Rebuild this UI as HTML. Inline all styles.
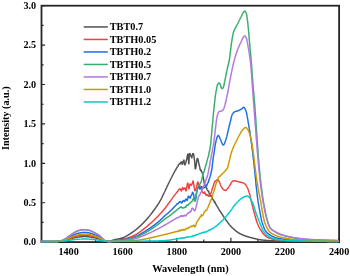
<!DOCTYPE html>
<html><head><meta charset="utf-8"><title>Spectra</title>
<style>html,body{margin:0;padding:0;background:#fff}svg{display:block}text{font-family:"Liberation Serif",serif;font-weight:bold;fill:#000}</style></head><body>
<svg width="350" height="276" viewBox="0 0 350 276">
<rect x="0" y="0" width="350" height="276" fill="#fff"/>
<g stroke="#262626" fill="none">
<rect x="41.5" y="5.7" width="297.6" height="236.4" stroke-width="1.8"/>
<path d="M68.6,242.1 v-4.3 M122.7,242.1 v-4.3 M176.8,242.1 v-4.3 M230.9,242.1 v-4.3 M285.0,242.1 v-4.3 M339.1,242.1 v-4.3 M41.5,242.1 v-2.5 M95.6,242.1 v-2.5 M149.7,242.1 v-2.5 M203.8,242.1 v-2.5 M257.9,242.1 v-2.5 M312.0,242.1 v-2.5 M41.5,242.1 h3.6 M41.5,202.7 h3.6 M41.5,163.3 h3.6 M41.5,123.9 h3.6 M41.5,84.5 h3.6 M41.5,45.1 h3.6 M41.5,5.7 h3.6 M41.5,222.4 h2.1 M41.5,183.0 h2.1 M41.5,143.6 h2.1 M41.5,104.2 h2.1 M41.5,64.8 h2.1 M41.5,25.4 h2.1" stroke-width="1.15"/>
</g>
<g fill="none" stroke-width="1.45" stroke-linejoin="round" stroke-linecap="round">
<polyline stroke="#515151" points="41.5,241.4 41.8,241.4 42.0,241.4 42.2,241.4 42.5,241.4 42.8,241.4 43.0,241.4 43.2,241.4 43.5,241.4 43.8,241.4 44.0,241.4 44.2,241.4 44.5,241.4 44.8,241.4 45.0,241.4 45.2,241.4 45.5,241.4 45.8,241.4 46.0,241.4 46.2,241.4 46.5,241.4 46.8,241.4 47.0,241.4 47.2,241.4 47.5,241.4 47.8,241.4 48.0,241.4 48.2,241.4 48.5,241.4 48.8,241.4 49.0,241.4 49.2,241.4 49.5,241.4 49.8,241.4 50.0,241.4 50.2,241.4 50.5,241.4 50.8,241.4 51.0,241.4 51.2,241.4 51.5,241.4 51.8,241.4 52.0,241.4 52.2,241.4 52.5,241.4 52.8,241.4 53.0,241.4 53.2,241.4 53.5,241.4 53.8,241.4 54.0,241.4 54.2,241.4 54.5,241.4 54.8,241.4 55.0,241.4 55.2,241.4 55.5,241.4 55.8,241.4 56.0,241.4 56.2,241.4 56.5,241.4 56.8,241.4 57.0,241.4 57.2,241.4 57.5,241.4 57.8,241.4 58.0,241.4 58.2,241.4 58.5,241.4 58.8,241.3 59.0,241.3 59.2,241.3 59.5,241.3 59.8,241.3 60.0,241.3 60.2,241.2 60.5,241.2 60.8,241.2 61.0,241.1 61.2,241.1 61.5,241.1 61.8,241.0 62.0,241.0 62.2,241.0 62.5,240.9 62.8,240.9 63.0,240.9 63.2,240.8 63.5,240.8 63.8,240.7 64.0,240.6 64.2,240.6 64.5,240.5 64.8,240.5 65.0,240.4 65.2,240.4 65.5,240.3 65.8,240.2 66.0,240.2 66.2,240.1 66.5,240.0 66.8,240.0 67.0,239.9 67.2,239.8 67.5,239.8 67.8,239.7 68.0,239.6 68.2,239.5 68.5,239.5 68.8,239.4 69.0,239.3 69.2,239.2 69.5,239.1 69.8,239.1 70.0,239.0 70.2,238.9 70.5,238.9 70.8,238.8 71.0,238.7 71.2,238.6 71.5,238.6 71.8,238.5 72.0,238.4 72.2,238.3 72.5,238.3 72.8,238.2 73.0,238.1 73.2,238.1 73.5,238.0 73.8,237.9 74.0,237.9 74.2,237.8 74.5,237.7 74.8,237.7 75.0,237.6 75.2,237.6 75.5,237.5 75.8,237.5 76.0,237.4 76.2,237.4 76.5,237.3 76.8,237.3 77.0,237.2 77.2,237.2 77.5,237.1 77.8,237.1 78.0,237.1 78.2,237.0 78.5,237.0 78.8,237.0 79.0,236.9 79.2,236.9 79.5,236.9 79.8,236.8 80.0,236.8 80.2,236.8 80.5,236.8 80.8,236.8 81.0,236.7 81.2,236.7 81.5,236.7 81.8,236.7 82.0,236.7 82.2,236.7 82.5,236.7 82.8,236.7 83.0,236.6 83.2,236.6 83.5,236.6 83.8,236.6 84.0,236.6 84.2,236.6 84.5,236.6 84.8,236.6 85.0,236.6 85.2,236.6 85.5,236.6 85.8,236.6 86.0,236.6 86.2,236.6 86.5,236.6 86.8,236.7 87.0,236.7 87.2,236.7 87.5,236.7 87.8,236.7 88.0,236.8 88.2,236.8 88.5,236.8 88.8,236.8 89.0,236.9 89.2,236.9 89.5,236.9 89.8,236.9 90.0,237.0 90.2,237.0 90.5,237.0 90.8,237.1 91.0,237.1 91.2,237.2 91.5,237.2 91.8,237.3 92.0,237.3 92.2,237.4 92.5,237.4 92.8,237.5 93.0,237.5 93.2,237.6 93.5,237.6 93.8,237.7 94.0,237.7 94.2,237.8 94.5,237.8 94.8,237.9 95.0,237.9 95.2,238.0 95.5,238.0 95.8,238.1 96.0,238.2 96.2,238.2 96.5,238.3 96.8,238.3 97.0,238.4 97.2,238.4 97.5,238.5 97.8,238.6 98.0,238.6 98.2,238.7 98.5,238.8 98.8,238.8 99.0,238.9 99.2,239.0 99.5,239.1 99.8,239.1 100.0,239.2 100.2,239.3 100.5,239.4 100.8,239.5 101.0,239.6 101.2,239.7 101.5,239.8 101.8,239.9 102.0,240.0 102.2,240.1 102.5,240.2 102.8,240.3 103.0,240.4 103.2,240.5 103.5,240.6 103.8,240.7 104.0,240.8 104.2,240.9 104.5,240.9 104.8,241.0 105.0,241.1 105.2,241.1 105.5,241.2 105.8,241.2 106.0,241.2 106.2,241.3 106.5,241.3 106.8,241.3 107.0,241.4 107.2,241.4 107.5,241.4 107.8,241.4 108.0,241.4 108.2,241.4 108.5,241.4 108.8,241.4 109.0,241.4 109.2,241.4 109.5,241.4 109.8,241.4 110.0,241.4 110.2,241.4 110.5,241.2 110.8,241.1 111.0,240.9 111.2,240.8 111.5,240.7 111.8,240.6 112.0,240.5 112.2,240.4 112.5,240.3 112.8,240.2 113.0,240.2 113.2,240.1 113.5,240.0 113.8,240.0 114.0,239.9 114.2,239.8 114.5,239.8 114.8,239.7 115.0,239.6 115.2,239.6 115.5,239.5 115.8,239.5 116.0,239.4 116.2,239.4 116.5,239.3 116.8,239.3 117.0,239.2 117.2,239.2 117.5,239.1 117.8,239.1 118.0,239.0 118.2,239.0 118.5,238.9 118.8,238.8 119.0,238.8 119.2,238.7 119.5,238.7 119.8,238.6 120.0,238.6 120.2,238.5 120.5,238.4 120.8,238.4 121.0,238.3 121.2,238.2 121.5,238.2 121.8,238.1 122.0,238.0 122.2,237.9 122.5,237.8 122.8,237.8 123.0,237.7 123.2,237.6 123.5,237.5 123.8,237.4 124.0,237.3 124.2,237.2 124.5,237.0 124.8,236.9 125.0,236.8 125.2,236.7 125.5,236.6 125.8,236.4 126.0,236.3 126.2,236.2 126.5,236.0 126.8,235.9 127.0,235.8 127.2,235.6 127.5,235.5 127.8,235.3 128.0,235.2 128.2,235.0 128.5,234.9 128.8,234.7 129.0,234.6 129.2,234.4 129.5,234.2 129.8,234.1 130.0,233.9 130.2,233.7 130.5,233.6 130.8,233.4 131.0,233.2 131.2,233.1 131.5,232.9 131.8,232.7 132.0,232.5 132.2,232.4 132.5,232.2 132.8,232.0 133.0,231.8 133.2,231.7 133.5,231.5 133.8,231.3 134.0,231.1 134.2,230.9 134.5,230.8 134.8,230.6 135.0,230.4 135.2,230.2 135.5,230.0 135.8,229.8 136.0,229.6 136.2,229.4 136.5,229.2 136.8,229.0 137.0,228.8 137.2,228.6 137.5,228.4 137.8,228.2 138.0,227.9 138.2,227.7 138.5,227.5 138.8,227.3 139.0,227.1 139.2,226.8 139.5,226.6 139.8,226.4 140.0,226.1 140.2,225.9 140.5,225.7 140.8,225.4 141.0,225.2 141.2,225.0 141.5,224.7 141.8,224.5 142.0,224.2 142.2,224.0 142.5,223.7 142.8,223.5 143.0,223.2 143.2,223.0 143.5,222.7 143.8,222.5 144.0,222.2 144.2,221.9 144.5,221.7 144.8,221.4 145.0,221.1 145.2,220.9 145.5,220.6 145.8,220.3 146.0,220.1 146.2,219.8 146.5,219.5 146.8,219.2 147.0,219.0 147.2,218.7 147.5,218.4 147.8,218.1 148.0,217.8 148.2,217.5 148.5,217.2 148.8,216.9 149.0,216.6 149.2,216.3 149.5,216.0 149.8,215.7 150.0,215.4 150.2,215.1 150.5,214.8 150.8,214.4 151.0,214.1 151.2,213.8 151.5,213.5 151.8,213.2 152.0,212.8 152.2,212.5 152.5,212.2 152.8,211.8 153.0,211.5 153.2,211.2 153.5,210.8 153.8,210.5 154.0,210.1 154.2,209.8 154.5,209.4 154.8,209.1 155.0,208.7 155.2,208.4 155.5,208.0 155.8,207.7 156.0,207.3 156.2,206.9 156.5,206.6 156.8,206.2 157.0,205.8 157.2,205.5 157.5,205.1 157.8,204.7 158.0,204.3 158.2,204.0 158.5,203.6 158.8,203.2 159.0,202.8 159.2,202.3 159.5,201.9 159.8,201.5 160.0,201.1 160.2,200.6 160.5,200.2 160.8,199.7 161.0,199.3 161.2,198.8 161.5,198.3 161.8,197.8 162.0,197.2 162.2,196.7 162.5,196.2 162.8,195.7 163.0,195.1 163.2,194.6 163.5,194.1 163.8,193.6 164.0,193.1 164.2,192.5 164.5,192.0 164.8,191.5 165.0,191.0 165.2,190.4 165.5,189.9 165.8,189.4 166.0,188.8 166.2,188.3 166.5,187.8 166.8,187.3 167.0,186.7 167.2,186.2 167.5,185.7 167.8,185.1 168.0,184.6 168.2,184.1 168.5,183.6 168.8,183.1 169.0,182.5 169.2,182.0 169.5,181.5 169.8,181.0 170.0,180.5 170.2,180.0 170.5,179.5 170.8,179.0 171.0,178.5 171.2,178.0 171.5,177.5 171.8,177.0 172.0,176.5 172.2,176.1 172.5,175.6 172.8,175.1 173.0,174.6 173.2,174.1 173.5,173.7 173.8,173.2 174.0,172.7 174.2,172.3 174.5,171.8 174.8,171.3 175.0,170.9 175.2,170.4 175.5,170.1 175.8,169.7 176.0,169.3 176.2,168.7 176.5,168.1 176.8,167.7 177.0,167.4 177.2,167.1 177.5,166.8 177.8,166.6 178.0,166.2 178.2,165.7 178.5,164.9 178.8,164.4 179.0,164.1 179.2,163.7 179.5,163.8 179.8,163.8 180.0,164.0 180.2,163.4 180.5,162.7 180.8,162.3 181.0,162.7 181.2,162.0 181.5,162.0 181.8,161.9 182.0,163.7 182.2,164.4 182.5,164.2 182.8,163.1 183.0,162.3 183.2,161.5 183.5,160.7 183.8,160.1 184.0,160.2 184.2,161.8 184.5,163.6 184.8,164.8 185.0,164.9 185.2,164.2 185.5,163.5 185.8,163.0 186.0,161.9 186.2,160.7 186.5,159.7 186.8,159.3 187.0,157.9 187.2,156.7 187.5,155.0 187.8,154.4 188.0,153.9 188.2,156.6 188.5,161.3 188.8,163.8 189.0,161.9 189.2,156.8 189.5,153.7 189.8,153.9 190.0,153.4 190.2,154.5 190.5,155.1 190.8,155.9 191.0,155.7 191.2,156.6 191.5,157.3 191.8,157.9 192.0,157.1 192.2,155.5 192.5,154.5 192.8,153.6 193.0,153.6 193.2,153.6 193.5,153.7 193.8,155.0 194.0,156.5 194.2,158.6 194.5,160.1 194.8,162.5 195.0,166.3 195.2,168.9 195.5,168.7 195.8,167.9 196.0,166.9 196.2,165.1 196.5,162.9 196.8,160.6 197.0,159.2 197.2,158.4 197.5,158.5 197.8,158.7 198.0,159.4 198.2,160.1 198.5,162.0 198.8,163.1 199.0,164.6 199.2,165.1 199.5,166.2 199.8,166.9 200.0,168.6 200.2,169.6 200.5,170.4 200.8,170.0 201.0,170.0 201.2,170.6 201.5,171.7 201.8,171.9 202.0,172.2 202.2,172.6 202.5,173.9 202.8,174.9 203.0,176.2 203.2,177.8 203.5,178.9 203.8,180.1 204.0,181.3 204.2,183.1 204.5,183.8 204.8,184.9 205.0,185.4 205.2,185.9 205.5,186.1 205.8,186.2 206.0,187.2 206.2,187.0 206.5,188.1 206.8,188.1 207.0,189.2 207.2,189.7 207.5,190.4 207.8,190.5 208.0,191.0 208.2,190.8 208.5,191.3 208.8,191.6 209.0,192.7 209.2,193.3 209.5,194.8 209.8,195.1 210.0,195.5 210.2,194.9 210.5,195.8 210.8,195.4 211.0,196.3 211.2,196.1 211.5,196.4 211.8,196.0 212.0,196.6 212.2,197.8 212.5,198.5 212.8,199.2 213.0,199.6 213.2,200.0 213.5,199.8 213.8,200.3 214.0,201.0 214.2,201.7 214.5,201.7 214.8,201.8 215.0,202.6 215.2,203.2 215.5,203.7 215.8,203.8 216.0,204.4 216.2,204.9 216.5,205.3 216.8,205.6 217.0,206.1 217.2,206.6 217.5,207.0 217.8,207.4 218.0,207.8 218.2,208.2 218.5,208.7 218.8,209.1 219.0,209.5 219.2,209.9 219.5,210.3 219.8,210.7 220.0,211.1 220.2,211.5 220.5,211.9 220.8,212.3 221.0,212.6 221.2,213.0 221.5,213.4 221.8,213.8 222.0,214.2 222.2,214.5 222.5,214.9 222.8,215.3 223.0,215.6 223.2,216.0 223.5,216.4 223.8,216.7 224.0,217.1 224.2,217.5 224.5,217.8 224.8,218.2 225.0,218.6 225.2,218.9 225.5,219.3 225.8,219.7 226.0,220.0 226.2,220.4 226.5,220.7 226.8,221.1 227.0,221.4 227.2,221.8 227.5,222.1 227.8,222.5 228.0,222.8 228.2,223.2 228.5,223.5 228.8,223.8 229.0,224.1 229.2,224.4 229.5,224.8 229.8,225.1 230.0,225.4 230.2,225.6 230.5,225.9 230.8,226.2 231.0,226.5 231.2,226.8 231.5,227.0 231.8,227.3 232.0,227.5 232.2,227.7 232.5,228.0 232.8,228.2 233.0,228.4 233.2,228.7 233.5,228.9 233.8,229.1 234.0,229.3 234.2,229.6 234.5,229.8 234.8,230.0 235.0,230.2 235.2,230.4 235.5,230.6 235.8,230.8 236.0,231.0 236.2,231.2 236.5,231.4 236.8,231.6 237.0,231.8 237.2,231.9 237.5,232.1 237.8,232.3 238.0,232.5 238.2,232.6 238.5,232.8 238.8,233.0 239.0,233.1 239.2,233.3 239.5,233.4 239.8,233.6 240.0,233.7 240.2,233.8 240.5,234.0 240.8,234.1 241.0,234.2 241.2,234.3 241.5,234.4 241.8,234.5 242.0,234.7 242.2,234.8 242.5,234.9 242.8,235.0 243.0,235.1 243.2,235.2 243.5,235.3 243.8,235.4 244.0,235.5 244.2,235.6 244.5,235.7 244.8,235.7 245.0,235.8 245.2,235.9 245.5,236.0 245.8,236.1 246.0,236.2 246.2,236.3 246.5,236.3 246.8,236.4 247.0,236.5 247.2,236.6 247.5,236.7 247.8,236.7 248.0,236.8 248.2,236.9 248.5,237.0 248.8,237.0 249.0,237.1 249.2,237.2 249.5,237.2 249.8,237.3 250.0,237.4 250.2,237.4 250.5,237.5 250.8,237.6 251.0,237.6 251.2,237.7 251.5,237.8 251.8,237.8 252.0,237.9 252.2,238.0 252.5,238.0 252.8,238.1 253.0,238.2 253.2,238.2 253.5,238.3 253.8,238.4 254.0,238.4 254.2,238.5 254.5,238.5 254.8,238.6 255.0,238.7 255.2,238.7 255.5,238.8 255.8,238.9 256.0,238.9 256.2,239.0 256.5,239.0 256.8,239.1 257.0,239.2 257.2,239.2 257.5,239.3 257.8,239.3 258.0,239.4 258.2,239.4 258.5,239.5 258.8,239.5 259.0,239.6 259.2,239.6 259.5,239.7 259.8,239.7 260.0,239.7 260.2,239.8 260.5,239.8 260.8,239.9 261.0,239.9 261.2,239.9 261.5,239.9 261.8,240.0 262.0,240.0 262.2,240.0 262.5,240.0 262.8,240.1 263.0,240.1 263.2,240.1 263.5,240.1 263.8,240.2 264.0,240.2 264.2,240.2 264.5,240.2 264.8,240.2 265.0,240.3 265.2,240.3 265.5,240.3 265.8,240.3 266.0,240.3 266.2,240.4 266.5,240.4 266.8,240.4 267.0,240.4 267.2,240.4 267.5,240.5 267.8,240.5 268.0,240.5 268.2,240.5 268.5,240.5 268.8,240.5 269.0,240.6 269.2,240.6 269.5,240.6 269.8,240.6 270.0,240.6 270.2,240.6 270.5,240.6 270.8,240.7 271.0,240.7 271.2,240.7 271.5,240.7 271.8,240.7 272.0,240.7 272.2,240.7 272.5,240.8 272.8,240.8 273.0,240.8 273.2,240.8 273.5,240.8 273.8,240.8 274.0,240.8 274.2,240.8 274.5,240.8 274.8,240.9 275.0,240.9 275.2,240.9 275.5,240.9 275.8,240.9 276.0,240.9 276.2,240.9 276.5,240.9 276.8,240.9 277.0,240.9 277.2,240.9 277.5,240.9 277.8,241.0 278.0,241.0 278.2,241.0 278.5,241.0 278.8,241.0 279.0,241.0 279.2,241.0 279.5,241.0 279.8,241.0 280.0,241.0 280.2,241.0 280.5,241.0 280.8,241.0 281.0,241.0 281.2,241.0 281.5,241.0 281.8,241.0 282.0,241.0 282.2,241.0 282.5,241.0 282.8,241.0 283.0,241.0 283.2,241.0 283.5,241.0 283.8,241.1 284.0,241.1 284.2,241.1 284.5,241.1 284.8,241.1 285.0,241.1 285.2,241.1 285.5,241.1 285.8,241.1 286.0,241.1 286.2,241.1 286.5,241.1 286.8,241.1 287.0,241.1 287.2,241.1 287.5,241.1 287.8,241.1 288.0,241.1 288.2,241.1 288.5,241.1 288.8,241.1 289.0,241.1 289.2,241.1 289.5,241.1 289.8,241.1 290.0,241.1 290.2,241.1 290.5,241.1 290.8,241.1 291.0,241.1 291.2,241.1 291.5,241.1 291.8,241.1 292.0,241.1 292.2,241.2 292.5,241.2 292.8,241.2 293.0,241.2 293.2,241.2 293.5,241.2 293.8,241.2 294.0,241.2 294.2,241.2 294.5,241.2 294.8,241.2 295.0,241.2 295.2,241.2 295.5,241.2 295.8,241.2 296.0,241.2 296.2,241.2 296.5,241.2 296.8,241.2 297.0,241.2 297.2,241.2 297.5,241.2 297.8,241.2 298.0,241.2 298.2,241.2 298.5,241.2 298.8,241.2 299.0,241.2 299.2,241.2 299.5,241.2 299.8,241.2 300.0,241.2 300.2,241.2 300.5,241.2 300.8,241.2 301.0,241.2 301.2,241.2 301.5,241.2 301.8,241.2 302.0,241.2 302.2,241.2 302.5,241.3 302.8,241.3 303.0,241.3 303.2,241.3 303.5,241.3 303.8,241.3 304.0,241.3 304.2,241.3 304.5,241.3 304.8,241.3 305.0,241.3 305.2,241.3 305.5,241.3 305.8,241.3 306.0,241.3 306.2,241.3 306.5,241.3 306.8,241.3 307.0,241.3 307.2,241.3 307.5,241.3 307.8,241.3 308.0,241.3 308.2,241.3 308.5,241.3 308.8,241.3 309.0,241.3 309.2,241.3 309.5,241.3 309.8,241.3 310.0,241.3 310.2,241.3 310.5,241.3 310.8,241.3 311.0,241.3 311.2,241.3 311.5,241.3 311.8,241.3 312.0,241.3 312.2,241.3 312.5,241.3 312.8,241.3 313.0,241.3 313.2,241.3 313.5,241.3 313.8,241.3 314.0,241.3 314.2,241.3 314.5,241.3 314.8,241.3 315.0,241.3 315.2,241.3 315.5,241.3 315.8,241.3 316.0,241.3 316.2,241.3 316.5,241.3 316.8,241.3 317.0,241.3 317.2,241.3 317.5,241.3 317.8,241.4 318.0,241.4 318.2,241.4 318.5,241.4 318.8,241.4 319.0,241.4 319.2,241.4 319.5,241.4 319.8,241.4 320.0,241.4 320.2,241.4 320.5,241.4 320.8,241.4 321.0,241.4 321.2,241.4 321.5,241.4 321.8,241.4 322.0,241.4 322.2,241.4 322.5,241.4 322.8,241.4 323.0,241.4 323.2,241.4 323.5,241.4 323.8,241.4 324.0,241.4 324.2,241.4 324.5,241.4 324.8,241.4 325.0,241.4 325.2,241.4 325.5,241.4 325.8,241.4 326.0,241.4 326.2,241.4 326.5,241.4 326.8,241.4 327.0,241.4 327.2,241.4 327.5,241.4 327.8,241.4 328.0,241.4 328.2,241.4 328.5,241.4 328.8,241.4 329.0,241.4 329.2,241.4 329.5,241.4 329.8,241.4 330.0,241.4 330.2,241.4 330.5,241.4 330.8,241.4 331.0,241.4 331.2,241.4 331.5,241.4 331.8,241.4 332.0,241.4 332.2,241.4 332.5,241.4 332.8,241.4 333.0,241.4 333.2,241.4 333.5,241.4 333.8,241.4 334.0,241.4 334.2,241.4 334.5,241.4 334.8,241.4 335.0,241.4 335.2,241.4 335.5,241.4 335.8,241.4 336.0,241.4 336.2,241.4 336.5,241.4 336.8,241.4 337.0,241.4 337.2,241.4 337.5,241.4 337.8,241.4 338.0,241.4 338.2,241.4"/>
<polyline stroke="#F14040" points="41.5,241.4 41.8,241.4 42.0,241.4 42.2,241.4 42.5,241.4 42.8,241.4 43.0,241.4 43.2,241.4 43.5,241.4 43.8,241.4 44.0,241.4 44.2,241.4 44.5,241.4 44.8,241.4 45.0,241.4 45.2,241.4 45.5,241.4 45.8,241.4 46.0,241.4 46.2,241.4 46.5,241.4 46.8,241.4 47.0,241.4 47.2,241.4 47.5,241.4 47.8,241.4 48.0,241.4 48.2,241.4 48.5,241.4 48.8,241.4 49.0,241.4 49.2,241.4 49.5,241.4 49.8,241.4 50.0,241.4 50.2,241.4 50.5,241.4 50.8,241.4 51.0,241.4 51.2,241.4 51.5,241.4 51.8,241.4 52.0,241.4 52.2,241.4 52.5,241.4 52.8,241.4 53.0,241.4 53.2,241.4 53.5,241.4 53.8,241.4 54.0,241.4 54.2,241.4 54.5,241.4 54.8,241.4 55.0,241.4 55.2,241.4 55.5,241.4 55.8,241.4 56.0,241.4 56.2,241.4 56.5,241.4 56.8,241.4 57.0,241.4 57.2,241.4 57.5,241.4 57.8,241.4 58.0,241.4 58.2,241.4 58.5,241.3 58.8,241.3 59.0,241.3 59.2,241.3 59.5,241.3 59.8,241.2 60.0,241.2 60.2,241.2 60.5,241.2 60.8,241.1 61.0,241.1 61.2,241.0 61.5,241.0 61.8,241.0 62.0,240.9 62.2,240.9 62.5,240.8 62.8,240.8 63.0,240.7 63.2,240.6 63.5,240.6 63.8,240.5 64.0,240.4 64.2,240.4 64.5,240.3 64.8,240.2 65.0,240.1 65.2,240.1 65.5,240.0 65.8,239.9 66.0,239.8 66.2,239.8 66.5,239.7 66.8,239.6 67.0,239.5 67.2,239.4 67.5,239.3 67.8,239.2 68.0,239.1 68.2,239.0 68.5,238.9 68.8,238.8 69.0,238.7 69.2,238.6 69.5,238.5 69.8,238.4 70.0,238.3 70.2,238.3 70.5,238.2 70.8,238.1 71.0,238.0 71.2,237.9 71.5,237.8 71.8,237.7 72.0,237.6 72.2,237.5 72.5,237.4 72.8,237.3 73.0,237.2 73.2,237.1 73.5,237.1 73.8,237.0 74.0,236.9 74.2,236.8 74.5,236.8 74.8,236.7 75.0,236.6 75.2,236.5 75.5,236.5 75.8,236.4 76.0,236.3 76.2,236.3 76.5,236.2 76.8,236.1 77.0,236.1 77.2,236.0 77.5,236.0 77.8,235.9 78.0,235.9 78.2,235.9 78.5,235.8 78.8,235.8 79.0,235.7 79.2,235.7 79.5,235.6 79.8,235.6 80.0,235.6 80.2,235.6 80.5,235.5 80.8,235.5 81.0,235.5 81.2,235.5 81.5,235.4 81.8,235.4 82.0,235.4 82.2,235.4 82.5,235.4 82.8,235.4 83.0,235.4 83.2,235.3 83.5,235.3 83.8,235.3 84.0,235.3 84.2,235.3 84.5,235.3 84.8,235.3 85.0,235.3 85.2,235.3 85.5,235.3 85.8,235.3 86.0,235.3 86.2,235.3 86.5,235.4 86.8,235.4 87.0,235.4 87.2,235.4 87.5,235.5 87.8,235.5 88.0,235.5 88.2,235.5 88.5,235.6 88.8,235.6 89.0,235.6 89.2,235.7 89.5,235.7 89.8,235.7 90.0,235.8 90.2,235.8 90.5,235.9 90.8,235.9 91.0,236.0 91.2,236.0 91.5,236.1 91.8,236.2 92.0,236.2 92.2,236.3 92.5,236.3 92.8,236.4 93.0,236.5 93.2,236.5 93.5,236.6 93.8,236.7 94.0,236.7 94.2,236.8 94.5,236.9 94.8,236.9 95.0,237.0 95.2,237.1 95.5,237.1 95.8,237.2 96.0,237.3 96.2,237.3 96.5,237.4 96.8,237.5 97.0,237.6 97.2,237.6 97.5,237.7 97.8,237.8 98.0,237.9 98.2,238.0 98.5,238.0 98.8,238.1 99.0,238.2 99.2,238.3 99.5,238.4 99.8,238.5 100.0,238.6 100.2,238.7 100.5,238.8 100.8,239.0 101.0,239.1 101.2,239.2 101.5,239.3 101.8,239.5 102.0,239.6 102.2,239.8 102.5,239.9 102.8,240.1 103.0,240.2 103.2,240.3 103.5,240.4 103.8,240.5 104.0,240.6 104.2,240.7 104.5,240.8 104.8,240.9 105.0,241.0 105.2,241.0 105.5,241.1 105.8,241.2 106.0,241.2 106.2,241.3 106.5,241.3 106.8,241.3 107.0,241.3 107.2,241.3 107.5,241.4 107.8,241.4 108.0,241.4 108.2,241.4 108.5,241.4 108.8,241.4 109.0,241.4 109.2,241.4 109.5,241.4 109.8,241.4 110.0,241.4 110.2,241.4 110.5,241.4 110.8,241.4 111.0,241.3 111.2,241.3 111.5,241.3 111.8,241.2 112.0,241.2 112.2,241.1 112.5,241.1 112.8,241.0 113.0,241.0 113.2,241.0 113.5,240.9 113.8,240.9 114.0,240.9 114.2,240.8 114.5,240.8 114.8,240.7 115.0,240.7 115.2,240.7 115.5,240.6 115.8,240.6 116.0,240.6 116.2,240.5 116.5,240.5 116.8,240.4 117.0,240.4 117.2,240.4 117.5,240.3 117.8,240.3 118.0,240.2 118.2,240.2 118.5,240.2 118.8,240.1 119.0,240.1 119.2,240.0 119.5,240.0 119.8,239.9 120.0,239.9 120.2,239.8 120.5,239.8 120.8,239.8 121.0,239.7 121.2,239.7 121.5,239.6 121.8,239.5 122.0,239.5 122.2,239.4 122.5,239.4 122.8,239.3 123.0,239.3 123.2,239.2 123.5,239.2 123.8,239.1 124.0,239.0 124.2,239.0 124.5,238.9 124.8,238.8 125.0,238.8 125.2,238.7 125.5,238.6 125.8,238.6 126.0,238.5 126.2,238.4 126.5,238.4 126.8,238.3 127.0,238.2 127.2,238.1 127.5,238.0 127.8,238.0 128.0,237.9 128.2,237.8 128.5,237.7 128.8,237.6 129.0,237.5 129.2,237.5 129.5,237.4 129.8,237.3 130.0,237.2 130.2,237.1 130.5,237.0 130.8,236.9 131.0,236.8 131.2,236.7 131.5,236.6 131.8,236.5 132.0,236.4 132.2,236.3 132.5,236.2 132.8,236.1 133.0,236.0 133.2,235.9 133.5,235.8 133.8,235.6 134.0,235.5 134.2,235.4 134.5,235.3 134.8,235.2 135.0,235.1 135.2,234.9 135.5,234.8 135.8,234.7 136.0,234.5 136.2,234.4 136.5,234.2 136.8,234.1 137.0,233.9 137.2,233.8 137.5,233.6 137.8,233.4 138.0,233.3 138.2,233.1 138.5,232.9 138.8,232.8 139.0,232.6 139.2,232.4 139.5,232.2 139.8,232.1 140.0,231.9 140.2,231.7 140.5,231.5 140.8,231.3 141.0,231.1 141.2,230.9 141.5,230.7 141.8,230.5 142.0,230.3 142.2,230.1 142.5,229.9 142.8,229.7 143.0,229.6 143.2,229.4 143.5,229.2 143.8,229.0 144.0,228.8 144.2,228.6 144.5,228.4 144.8,228.2 145.0,228.0 145.2,227.8 145.5,227.6 145.8,227.4 146.0,227.2 146.2,227.0 146.5,226.8 146.8,226.6 147.0,226.4 147.2,226.2 147.5,225.9 147.8,225.7 148.0,225.5 148.2,225.3 148.5,225.1 148.8,224.9 149.0,224.7 149.2,224.5 149.5,224.2 149.8,224.0 150.0,223.8 150.2,223.6 150.5,223.4 150.8,223.1 151.0,222.9 151.2,222.7 151.5,222.5 151.8,222.2 152.0,222.0 152.2,221.8 152.5,221.6 152.8,221.3 153.0,221.1 153.2,220.9 153.5,220.6 153.8,220.4 154.0,220.1 154.2,219.9 154.5,219.7 154.8,219.4 155.0,219.2 155.2,218.9 155.5,218.7 155.8,218.4 156.0,218.2 156.2,218.0 156.5,217.7 156.8,217.5 157.0,217.2 157.2,216.9 157.5,216.7 157.8,216.4 158.0,216.2 158.2,215.9 158.5,215.7 158.8,215.4 159.0,215.1 159.2,214.9 159.5,214.6 159.8,214.3 160.0,214.1 160.2,213.8 160.5,213.5 160.8,213.2 161.0,213.0 161.2,212.7 161.5,212.4 161.8,212.1 162.0,211.8 162.2,211.6 162.5,211.3 162.8,211.0 163.0,210.7 163.2,210.4 163.5,210.1 163.8,209.8 164.0,209.5 164.2,209.2 164.5,208.9 164.8,208.6 165.0,208.3 165.2,208.0 165.5,207.7 165.8,207.3 166.0,207.0 166.2,206.7 166.5,206.3 166.8,206.0 167.0,205.7 167.2,205.3 167.5,204.9 167.8,204.6 168.0,204.2 168.2,203.9 168.5,203.5 168.8,203.2 169.0,202.8 169.2,202.5 169.5,202.2 169.8,201.8 170.0,201.5 170.2,201.1 170.5,200.8 170.8,200.4 171.0,200.1 171.2,199.7 171.5,199.4 171.8,199.0 172.0,198.7 172.2,198.3 172.5,198.0 172.8,197.6 173.0,197.3 173.2,196.9 173.5,196.6 173.8,196.3 174.0,195.9 174.2,195.6 174.5,195.2 174.8,194.9 175.0,194.6 175.2,194.3 175.5,194.0 175.8,193.6 176.0,193.3 176.2,193.0 176.5,192.7 176.8,192.5 177.0,192.0 177.2,191.8 177.5,191.5 177.8,191.3 178.0,190.7 178.2,190.3 178.5,189.9 178.8,189.7 179.0,189.5 179.2,189.3 179.5,188.9 179.8,188.9 180.0,188.6 180.2,189.1 180.5,189.4 180.8,189.8 181.0,190.5 181.2,190.3 181.5,191.0 181.8,189.9 182.0,189.5 182.2,188.0 182.5,187.8 182.8,187.6 183.0,188.7 183.2,189.2 183.5,189.4 183.8,189.4 184.0,188.8 184.2,188.4 184.5,188.0 184.8,188.0 185.0,188.0 185.2,188.0 185.5,188.6 185.8,190.2 186.0,191.0 186.2,190.5 186.5,188.7 186.8,187.0 187.0,186.1 187.2,184.8 187.5,183.7 187.8,182.9 188.0,183.6 188.2,185.2 188.5,186.7 188.8,188.0 189.0,188.9 189.2,188.0 189.5,185.9 189.8,184.5 190.0,183.9 190.2,184.4 190.5,184.2 190.8,184.5 191.0,184.7 191.2,185.3 191.5,185.2 191.8,184.4 192.0,184.0 192.2,183.6 192.5,183.4 192.8,181.9 193.0,181.0 193.2,181.1 193.5,182.5 193.8,184.6 194.0,185.7 194.2,187.2 194.5,188.8 194.8,190.6 195.0,190.9 195.2,190.2 195.5,189.9 195.8,189.2 196.0,188.9 196.2,188.4 196.5,187.5 196.8,186.2 197.0,184.7 197.2,183.4 197.5,182.6 197.8,181.9 198.0,182.2 198.2,183.1 198.5,184.5 198.8,185.6 199.0,185.4 199.2,185.5 199.5,185.4 199.8,185.9 200.0,186.1 200.2,186.7 200.5,187.0 200.8,187.4 201.0,187.8 201.2,188.6 201.5,189.3 201.8,190.2 202.0,191.0 202.2,191.7 202.5,191.7 202.8,192.5 203.0,192.8 203.2,193.3 203.5,192.7 203.8,193.3 204.0,193.3 204.2,192.8 204.5,192.3 204.8,191.9 205.0,192.7 205.2,193.4 205.5,194.1 205.8,194.8 206.0,194.9 206.2,195.4 206.5,195.0 206.8,195.0 207.0,194.5 207.2,194.9 207.5,194.7 207.8,195.0 208.0,195.4 208.2,196.0 208.5,196.2 208.8,196.3 209.0,196.1 209.2,196.1 209.5,196.1 209.8,195.6 210.0,194.7 210.2,194.0 210.5,193.5 210.8,193.6 211.0,193.1 211.2,192.9 211.5,191.9 211.8,190.9 212.0,189.7 212.2,188.7 212.5,188.0 212.8,187.1 213.0,186.7 213.2,186.1 213.5,185.3 213.8,184.0 214.0,183.5 214.2,183.0 214.5,182.4 214.8,181.5 215.0,181.2 215.2,181.3 215.5,181.2 215.8,181.0 216.0,180.8 216.2,180.6 216.5,180.2 216.8,179.9 217.0,179.7 217.2,179.7 217.5,179.7 217.8,179.8 218.0,180.0 218.2,180.3 218.5,180.6 218.8,181.0 219.0,181.3 219.2,181.7 219.5,182.2 219.8,182.9 220.0,183.5 220.2,184.2 220.5,184.9 220.8,185.5 221.0,186.1 221.2,186.6 221.5,187.0 221.8,187.4 222.0,187.8 222.2,188.2 222.5,188.6 222.8,188.9 223.0,189.2 223.2,189.4 223.5,189.6 223.8,189.7 224.0,189.9 224.2,190.0 224.5,190.2 224.8,190.3 225.0,190.3 225.2,190.4 225.5,190.4 225.8,190.3 226.0,190.2 226.2,190.0 226.5,189.7 226.8,189.5 227.0,189.2 227.2,188.9 227.5,188.7 227.8,188.4 228.0,188.0 228.2,187.7 228.5,187.3 228.8,186.9 229.0,186.6 229.2,186.2 229.5,185.8 229.8,185.4 230.0,185.0 230.2,184.6 230.5,184.2 230.8,183.7 231.0,183.3 231.2,182.9 231.5,182.5 231.8,182.1 232.0,181.8 232.2,181.6 232.5,181.3 232.8,181.1 233.0,180.9 233.2,180.8 233.5,180.7 233.8,180.6 234.0,180.6 234.2,180.6 234.5,180.7 234.8,180.7 235.0,180.8 235.2,180.9 235.5,181.0 235.8,181.0 236.0,181.1 236.2,181.2 236.5,181.2 236.8,181.3 237.0,181.3 237.2,181.4 237.5,181.5 237.8,181.5 238.0,181.6 238.2,181.7 238.5,181.7 238.8,181.8 239.0,181.8 239.2,181.9 239.5,182.0 239.8,182.0 240.0,182.1 240.2,182.2 240.5,182.2 240.8,182.3 241.0,182.3 241.2,182.4 241.5,182.4 241.8,182.5 242.0,182.6 242.2,182.6 242.5,182.7 242.8,182.8 243.0,182.8 243.2,182.9 243.5,183.0 243.8,183.2 244.0,183.3 244.2,183.5 244.5,183.7 244.8,183.9 245.0,184.1 245.2,184.3 245.5,184.6 245.8,184.9 246.0,185.2 246.2,185.6 246.5,186.0 246.8,186.5 247.0,187.0 247.2,187.5 247.5,188.0 247.8,188.6 248.0,189.1 248.2,189.8 248.5,190.5 248.8,191.2 249.0,192.0 249.2,192.8 249.5,193.6 249.8,194.5 250.0,195.6 250.2,196.7 250.5,197.8 250.8,198.9 251.0,200.0 251.2,201.0 251.5,202.1 251.8,203.1 252.0,204.1 252.2,205.1 252.5,206.1 252.8,207.0 253.0,208.0 253.2,209.0 253.5,209.9 253.8,210.9 254.0,211.8 254.2,212.8 254.5,213.7 254.8,214.7 255.0,215.7 255.2,216.6 255.5,217.5 255.8,218.4 256.0,219.3 256.2,220.1 256.5,220.9 256.8,221.6 257.0,222.3 257.2,222.9 257.5,223.6 257.8,224.2 258.0,224.7 258.2,225.3 258.5,225.8 258.8,226.4 259.0,226.9 259.2,227.4 259.5,227.9 259.8,228.3 260.0,228.8 260.2,229.2 260.5,229.6 260.8,230.0 261.0,230.4 261.2,230.8 261.5,231.2 261.8,231.6 262.0,231.9 262.2,232.3 262.5,232.6 262.8,233.0 263.0,233.3 263.2,233.6 263.5,233.9 263.8,234.2 264.0,234.5 264.2,234.8 264.5,235.0 264.8,235.3 265.0,235.5 265.2,235.7 265.5,235.9 265.8,236.1 266.0,236.3 266.2,236.5 266.5,236.6 266.8,236.8 267.0,236.9 267.2,237.1 267.5,237.2 267.8,237.4 268.0,237.5 268.2,237.6 268.5,237.7 268.8,237.9 269.0,238.0 269.2,238.1 269.5,238.2 269.8,238.3 270.0,238.4 270.2,238.5 270.5,238.5 270.8,238.6 271.0,238.7 271.2,238.8 271.5,238.8 271.8,238.9 272.0,239.0 272.2,239.0 272.5,239.1 272.8,239.2 273.0,239.2 273.2,239.3 273.5,239.4 273.8,239.4 274.0,239.5 274.2,239.5 274.5,239.6 274.8,239.6 275.0,239.7 275.2,239.8 275.5,239.8 275.8,239.8 276.0,239.9 276.2,239.9 276.5,240.0 276.8,240.0 277.0,240.1 277.2,240.1 277.5,240.1 277.8,240.2 278.0,240.2 278.2,240.2 278.5,240.2 278.8,240.3 279.0,240.3 279.2,240.3 279.5,240.3 279.8,240.3 280.0,240.3 280.2,240.4 280.5,240.4 280.8,240.4 281.0,240.4 281.2,240.4 281.5,240.4 281.8,240.4 282.0,240.5 282.2,240.5 282.5,240.5 282.8,240.5 283.0,240.5 283.2,240.5 283.5,240.5 283.8,240.5 284.0,240.6 284.2,240.6 284.5,240.6 284.8,240.6 285.0,240.6 285.2,240.6 285.5,240.6 285.8,240.6 286.0,240.6 286.2,240.7 286.5,240.7 286.8,240.7 287.0,240.7 287.2,240.7 287.5,240.7 287.8,240.7 288.0,240.7 288.2,240.7 288.5,240.7 288.8,240.7 289.0,240.8 289.2,240.8 289.5,240.8 289.8,240.8 290.0,240.8 290.2,240.8 290.5,240.8 290.8,240.8 291.0,240.8 291.2,240.8 291.5,240.8 291.8,240.8 292.0,240.8 292.2,240.8 292.5,240.9 292.8,240.9 293.0,240.9 293.2,240.9 293.5,240.9 293.8,240.9 294.0,240.9 294.2,240.9 294.5,240.9 294.8,240.9 295.0,240.9 295.2,240.9 295.5,240.9 295.8,240.9 296.0,240.9 296.2,240.9 296.5,240.9 296.8,240.9 297.0,240.9 297.2,241.0 297.5,241.0 297.8,241.0 298.0,241.0 298.2,241.0 298.5,241.0 298.8,241.0 299.0,241.0 299.2,241.0 299.5,241.0 299.8,241.0 300.0,241.0 300.2,241.0 300.5,241.0 300.8,241.0 301.0,241.0 301.2,241.0 301.5,241.0 301.8,241.0 302.0,241.0 302.2,241.0 302.5,241.0 302.8,241.0 303.0,241.0 303.2,241.1 303.5,241.1 303.8,241.1 304.0,241.1 304.2,241.1 304.5,241.1 304.8,241.1 305.0,241.1 305.2,241.1 305.5,241.1 305.8,241.1 306.0,241.1 306.2,241.1 306.5,241.1 306.8,241.1 307.0,241.1 307.2,241.1 307.5,241.1 307.8,241.1 308.0,241.1 308.2,241.1 308.5,241.1 308.8,241.1 309.0,241.1 309.2,241.1 309.5,241.2 309.8,241.2 310.0,241.2 310.2,241.2 310.5,241.2 310.8,241.2 311.0,241.2 311.2,241.2 311.5,241.2 311.8,241.2 312.0,241.2 312.2,241.2 312.5,241.2 312.8,241.2 313.0,241.2 313.2,241.2 313.5,241.2 313.8,241.2 314.0,241.2 314.2,241.2 314.5,241.2 314.8,241.2 315.0,241.2 315.2,241.2 315.5,241.2 315.8,241.2 316.0,241.2 316.2,241.2 316.5,241.2 316.8,241.2 317.0,241.3 317.2,241.3 317.5,241.3 317.8,241.3 318.0,241.3 318.2,241.3 318.5,241.3 318.8,241.3 319.0,241.3 319.2,241.3 319.5,241.3 319.8,241.3 320.0,241.3 320.2,241.3 320.5,241.3 320.8,241.3 321.0,241.3 321.2,241.3 321.5,241.3 321.8,241.3 322.0,241.3 322.2,241.3 322.5,241.3 322.8,241.3 323.0,241.3 323.2,241.3 323.5,241.3 323.8,241.3 324.0,241.3 324.2,241.3 324.5,241.3 324.8,241.3 325.0,241.3 325.2,241.3 325.5,241.3 325.8,241.3 326.0,241.3 326.2,241.3 326.5,241.3 326.8,241.4 327.0,241.4 327.2,241.4 327.5,241.4 327.8,241.4 328.0,241.4 328.2,241.4 328.5,241.4 328.8,241.4 329.0,241.4 329.2,241.4 329.5,241.4 329.8,241.4 330.0,241.4 330.2,241.4 330.5,241.4 330.8,241.4 331.0,241.4 331.2,241.4 331.5,241.4 331.8,241.4 332.0,241.4 332.2,241.4 332.5,241.4 332.8,241.4 333.0,241.4 333.2,241.4 333.5,241.4 333.8,241.4 334.0,241.4 334.2,241.4 334.5,241.4 334.8,241.4 335.0,241.4 335.2,241.4 335.5,241.4 335.8,241.4 336.0,241.4 336.2,241.4 336.5,241.4 336.8,241.4 337.0,241.4 337.2,241.4 337.5,241.4 337.8,241.4 338.0,241.4 338.2,241.4"/>
<polyline stroke="#1A6FDF" points="41.5,241.4 41.8,241.4 42.0,241.4 42.2,241.4 42.5,241.4 42.8,241.4 43.0,241.4 43.2,241.4 43.5,241.4 43.8,241.4 44.0,241.4 44.2,241.4 44.5,241.4 44.8,241.4 45.0,241.4 45.2,241.4 45.5,241.4 45.8,241.4 46.0,241.4 46.2,241.4 46.5,241.4 46.8,241.4 47.0,241.4 47.2,241.4 47.5,241.4 47.8,241.4 48.0,241.4 48.2,241.4 48.5,241.4 48.8,241.4 49.0,241.4 49.2,241.4 49.5,241.4 49.8,241.4 50.0,241.4 50.2,241.4 50.5,241.4 50.8,241.4 51.0,241.4 51.2,241.4 51.5,241.4 51.8,241.4 52.0,241.4 52.2,241.4 52.5,241.4 52.8,241.4 53.0,241.4 53.2,241.4 53.5,241.4 53.8,241.4 54.0,241.4 54.2,241.4 54.5,241.4 54.8,241.4 55.0,241.4 55.2,241.4 55.5,241.4 55.8,241.4 56.0,241.4 56.2,241.4 56.5,241.4 56.8,241.4 57.0,241.4 57.2,241.4 57.5,241.4 57.8,241.4 58.0,241.4 58.2,241.3 58.5,241.3 58.8,241.3 59.0,241.3 59.2,241.2 59.5,241.2 59.8,241.2 60.0,241.1 60.2,241.1 60.5,241.0 60.8,241.0 61.0,240.9 61.2,240.9 61.5,240.8 61.8,240.7 62.0,240.7 62.2,240.6 62.5,240.5 62.8,240.5 63.0,240.4 63.2,240.3 63.5,240.2 63.8,240.1 64.0,240.0 64.2,239.9 64.5,239.8 64.8,239.7 65.0,239.6 65.2,239.4 65.5,239.3 65.8,239.2 66.0,239.1 66.2,239.0 66.5,238.9 66.8,238.7 67.0,238.6 67.2,238.5 67.5,238.3 67.8,238.2 68.0,238.0 68.2,237.9 68.5,237.7 68.8,237.6 69.0,237.5 69.2,237.3 69.5,237.2 69.8,237.0 70.0,236.9 70.2,236.8 70.5,236.6 70.8,236.5 71.0,236.3 71.2,236.2 71.5,236.1 71.8,235.9 72.0,235.8 72.2,235.6 72.5,235.5 72.8,235.4 73.0,235.3 73.2,235.1 73.5,235.0 73.8,234.9 74.0,234.8 74.2,234.7 74.5,234.5 74.8,234.4 75.0,234.3 75.2,234.2 75.5,234.1 75.8,234.0 76.0,233.9 76.2,233.8 76.5,233.7 76.8,233.6 77.0,233.6 77.2,233.5 77.5,233.4 77.8,233.4 78.0,233.3 78.2,233.2 78.5,233.2 78.8,233.1 79.0,233.0 79.2,233.0 79.5,232.9 79.8,232.9 80.0,232.8 80.2,232.8 80.5,232.7 80.8,232.7 81.0,232.7 81.2,232.6 81.5,232.6 81.8,232.6 82.0,232.6 82.2,232.5 82.5,232.5 82.8,232.5 83.0,232.5 83.2,232.5 83.5,232.4 83.8,232.4 84.0,232.4 84.2,232.4 84.5,232.4 84.8,232.4 85.0,232.4 85.2,232.4 85.5,232.4 85.8,232.4 86.0,232.4 86.2,232.5 86.5,232.5 86.8,232.5 87.0,232.5 87.2,232.6 87.5,232.6 87.8,232.7 88.0,232.7 88.2,232.8 88.5,232.8 88.8,232.8 89.0,232.9 89.2,232.9 89.5,233.0 89.8,233.0 90.0,233.1 90.2,233.2 90.5,233.2 90.8,233.3 91.0,233.4 91.2,233.5 91.5,233.6 91.8,233.7 92.0,233.8 92.2,233.8 92.5,233.9 92.8,234.0 93.0,234.1 93.2,234.2 93.5,234.3 93.8,234.4 94.0,234.5 94.2,234.6 94.5,234.7 94.8,234.8 95.0,234.9 95.2,235.0 95.5,235.1 95.8,235.2 96.0,235.3 96.2,235.4 96.5,235.5 96.8,235.6 97.0,235.7 97.2,235.8 97.5,236.0 97.8,236.1 98.0,236.2 98.2,236.3 98.5,236.5 98.8,236.6 99.0,236.7 99.2,236.9 99.5,237.0 99.8,237.2 100.0,237.3 100.2,237.5 100.5,237.6 100.8,237.8 101.0,238.0 101.2,238.2 101.5,238.4 101.8,238.6 102.0,238.8 102.2,239.0 102.5,239.2 102.8,239.4 103.0,239.6 103.2,239.8 103.5,239.9 103.8,240.1 104.0,240.3 104.2,240.4 104.5,240.5 104.8,240.7 105.0,240.8 105.2,240.9 105.5,241.0 105.8,241.0 106.0,241.1 106.2,241.2 106.5,241.2 106.8,241.3 107.0,241.3 107.2,241.3 107.5,241.3 107.8,241.3 108.0,241.4 108.2,241.4 108.5,241.4 108.8,241.4 109.0,241.4 109.2,241.4 109.5,241.4 109.8,241.4 110.0,241.4 110.2,241.4 110.5,241.4 110.8,241.4 111.0,241.3 111.2,241.3 111.5,241.2 111.8,241.2 112.0,241.2 112.2,241.1 112.5,241.1 112.8,241.0 113.0,241.0 113.2,241.0 113.5,240.9 113.8,240.9 114.0,240.9 114.2,240.9 114.5,240.8 114.8,240.8 115.0,240.8 115.2,240.8 115.5,240.7 115.8,240.7 116.0,240.7 116.2,240.7 116.5,240.7 116.8,240.6 117.0,240.6 117.2,240.6 117.5,240.6 117.8,240.6 118.0,240.5 118.2,240.5 118.5,240.5 118.8,240.5 119.0,240.4 119.2,240.4 119.5,240.4 119.8,240.4 120.0,240.3 120.2,240.3 120.5,240.3 120.8,240.3 121.0,240.2 121.2,240.2 121.5,240.2 121.8,240.2 122.0,240.1 122.2,240.1 122.5,240.1 122.8,240.0 123.0,240.0 123.2,239.9 123.5,239.9 123.8,239.9 124.0,239.8 124.2,239.8 124.5,239.7 124.8,239.7 125.0,239.6 125.2,239.6 125.5,239.5 125.8,239.5 126.0,239.4 126.2,239.4 126.5,239.3 126.8,239.3 127.0,239.2 127.2,239.1 127.5,239.1 127.8,239.0 128.0,239.0 128.2,238.9 128.5,238.8 128.8,238.8 129.0,238.7 129.2,238.6 129.5,238.5 129.8,238.5 130.0,238.4 130.2,238.3 130.5,238.3 130.8,238.2 131.0,238.1 131.2,238.0 131.5,237.9 131.8,237.9 132.0,237.8 132.2,237.7 132.5,237.6 132.8,237.5 133.0,237.4 133.2,237.4 133.5,237.3 133.8,237.2 134.0,237.1 134.2,237.0 134.5,236.9 134.8,236.8 135.0,236.7 135.2,236.6 135.5,236.5 135.8,236.4 136.0,236.3 136.2,236.2 136.5,236.1 136.8,236.0 137.0,235.9 137.2,235.8 137.5,235.6 137.8,235.5 138.0,235.4 138.2,235.3 138.5,235.1 138.8,235.0 139.0,234.9 139.2,234.7 139.5,234.6 139.8,234.5 140.0,234.3 140.2,234.2 140.5,234.0 140.8,233.9 141.0,233.7 141.2,233.6 141.5,233.4 141.8,233.3 142.0,233.1 142.2,233.0 142.5,232.8 142.8,232.7 143.0,232.5 143.2,232.4 143.5,232.2 143.8,232.1 144.0,231.9 144.2,231.8 144.5,231.6 144.8,231.5 145.0,231.3 145.2,231.2 145.5,231.0 145.8,230.9 146.0,230.7 146.2,230.6 146.5,230.4 146.8,230.3 147.0,230.1 147.2,229.9 147.5,229.8 147.8,229.6 148.0,229.5 148.2,229.3 148.5,229.1 148.8,229.0 149.0,228.8 149.2,228.6 149.5,228.5 149.8,228.3 150.0,228.1 150.2,228.0 150.5,227.8 150.8,227.6 151.0,227.5 151.2,227.3 151.5,227.1 151.8,226.9 152.0,226.8 152.2,226.6 152.5,226.4 152.8,226.2 153.0,226.0 153.2,225.9 153.5,225.7 153.8,225.5 154.0,225.3 154.2,225.1 154.5,224.9 154.8,224.7 155.0,224.5 155.2,224.4 155.5,224.2 155.8,224.0 156.0,223.8 156.2,223.6 156.5,223.4 156.8,223.2 157.0,223.0 157.2,222.8 157.5,222.6 157.8,222.4 158.0,222.2 158.2,221.9 158.5,221.7 158.8,221.5 159.0,221.3 159.2,221.0 159.5,220.8 159.8,220.6 160.0,220.4 160.2,220.1 160.5,219.9 160.8,219.6 161.0,219.4 161.2,219.2 161.5,218.9 161.8,218.7 162.0,218.4 162.2,218.2 162.5,218.0 162.8,217.7 163.0,217.5 163.2,217.2 163.5,217.0 163.8,216.8 164.0,216.5 164.2,216.3 164.5,216.1 164.8,215.8 165.0,215.6 165.2,215.4 165.5,215.2 165.8,215.0 166.0,214.7 166.2,214.5 166.5,214.3 166.8,214.1 167.0,213.9 167.2,213.7 167.5,213.5 167.8,213.3 168.0,213.1 168.2,212.9 168.5,212.7 168.8,212.5 169.0,212.2 169.2,212.0 169.5,211.8 169.8,211.5 170.0,211.3 170.2,211.1 170.5,210.8 170.8,210.6 171.0,210.3 171.2,210.1 171.5,209.8 171.8,209.6 172.0,209.3 172.2,209.1 172.5,208.8 172.8,208.6 173.0,208.3 173.2,208.1 173.5,207.8 173.8,207.5 174.0,207.3 174.2,207.0 174.5,206.7 174.8,206.4 175.0,206.2 175.2,205.9 175.5,205.6 175.8,205.4 176.0,205.2 176.2,205.0 176.5,204.7 176.8,204.3 177.0,204.0 177.2,203.8 177.5,203.7 177.8,203.7 178.0,203.6 178.2,203.6 178.5,203.3 178.8,202.7 179.0,201.9 179.2,201.9 179.5,201.8 179.8,202.2 180.0,202.1 180.2,202.0 180.5,201.9 180.8,201.6 181.0,202.2 181.2,202.3 181.5,203.0 181.8,202.6 182.0,202.8 182.2,202.5 182.5,202.0 182.8,201.0 183.0,200.8 183.2,200.7 183.5,201.1 183.8,200.5 184.0,200.5 184.2,200.9 184.5,201.2 184.8,201.5 185.0,200.5 185.2,200.1 185.5,199.5 185.8,199.5 186.0,198.9 186.2,199.0 186.5,199.3 186.8,200.0 187.0,200.3 187.2,200.6 187.5,199.6 187.8,198.6 188.0,197.2 188.2,196.4 188.5,196.3 188.8,196.2 189.0,196.9 189.2,196.5 189.5,197.0 189.8,197.3 190.0,198.2 190.2,198.2 190.5,197.4 190.8,196.2 191.0,195.8 191.2,195.2 191.5,195.1 191.8,194.8 192.0,194.1 192.2,193.3 192.5,192.3 192.8,192.5 193.0,192.7 193.2,193.3 193.5,194.3 193.8,195.4 194.0,196.8 194.2,197.7 194.5,199.3 194.8,199.7 195.0,200.7 195.2,200.4 195.5,199.9 195.8,198.8 196.0,197.3 196.2,195.4 196.5,193.0 196.8,191.5 197.0,190.7 197.2,190.1 197.5,189.0 197.8,187.8 198.0,187.6 198.2,187.5 198.5,187.1 198.8,186.6 199.0,186.3 199.2,187.1 199.5,188.1 199.8,189.1 200.0,189.2 200.2,188.6 200.5,188.1 200.8,187.9 201.0,187.6 201.2,187.0 201.5,186.6 201.8,186.9 202.0,187.0 202.2,187.2 202.5,187.3 202.8,187.2 203.0,187.5 203.2,187.6 203.5,188.2 203.8,187.8 204.0,187.7 204.2,187.5 204.5,187.4 204.8,187.6 205.0,187.1 205.2,187.1 205.5,186.6 205.8,185.7 206.0,185.3 206.2,185.1 206.5,185.6 206.8,185.6 207.0,185.2 207.2,184.8 207.5,183.3 207.8,182.8 208.0,182.3 208.2,182.6 208.5,181.9 208.8,180.8 209.0,179.8 209.2,179.0 209.5,178.4 209.8,177.9 210.0,177.1 210.2,175.9 210.5,175.4 210.8,174.3 211.0,172.9 211.2,171.7 211.5,170.9 211.8,170.1 212.0,168.2 212.2,166.1 212.5,163.9 212.8,161.7 213.0,159.6 213.2,157.9 213.5,156.0 213.8,154.6 214.0,153.3 214.2,151.7 214.5,150.1 214.8,148.0 215.0,146.3 215.2,144.7 215.5,143.5 215.8,142.3 216.0,141.3 216.2,140.1 216.5,139.2 216.8,138.2 217.0,137.5 217.2,136.9 217.5,136.4 217.8,135.9 218.0,135.6 218.2,135.5 218.5,135.6 218.8,135.8 219.0,136.2 219.2,136.7 219.5,137.2 219.8,137.8 220.0,138.4 220.2,139.0 220.5,139.5 220.8,140.0 221.0,140.6 221.2,141.2 221.5,141.9 221.8,142.5 222.0,143.2 222.2,143.7 222.5,144.2 222.8,144.6 223.0,144.9 223.2,145.0 223.5,145.0 223.8,144.8 224.0,144.4 224.2,144.0 224.5,143.5 224.8,142.9 225.0,142.2 225.2,141.5 225.5,140.8 225.8,140.0 226.0,139.2 226.2,138.4 226.5,137.7 226.8,136.7 227.0,135.7 227.2,134.6 227.5,133.5 227.8,132.3 228.0,131.2 228.2,130.1 228.5,129.0 228.8,128.0 229.0,127.0 229.2,126.0 229.5,125.0 229.8,124.1 230.0,123.1 230.2,122.1 230.5,121.1 230.8,120.0 231.0,118.8 231.2,117.6 231.5,116.6 231.8,115.7 232.0,115.0 232.2,114.5 232.5,114.1 232.8,113.6 233.0,113.3 233.2,112.9 233.5,112.7 233.8,112.4 234.0,112.2 234.2,112.0 234.5,111.9 234.8,111.8 235.0,111.7 235.2,111.6 235.5,111.5 235.8,111.4 236.0,111.4 236.2,111.3 236.5,111.2 236.8,111.2 237.0,111.1 237.2,111.1 237.5,111.0 237.8,110.9 238.0,110.8 238.2,110.7 238.5,110.6 238.8,110.5 239.0,110.4 239.2,110.2 239.5,110.1 239.8,110.0 240.0,109.9 240.2,109.7 240.5,109.6 240.8,109.4 241.0,109.3 241.2,109.1 241.5,109.0 241.8,108.8 242.0,108.6 242.2,108.4 242.5,108.2 242.8,107.9 243.0,107.7 243.2,107.5 243.5,107.4 243.8,107.3 244.0,107.3 244.2,107.4 244.5,107.7 244.8,108.1 245.0,108.6 245.2,109.1 245.5,109.7 245.8,110.3 246.0,111.0 246.2,111.8 246.5,112.8 246.8,114.0 247.0,115.3 247.2,116.7 247.5,118.1 247.8,119.6 248.0,121.0 248.2,122.4 248.5,123.8 248.8,125.3 249.0,126.8 249.2,128.4 249.5,129.9 249.8,131.5 250.0,133.2 250.2,134.8 250.5,136.5 250.8,138.3 251.0,140.0 251.2,141.8 251.5,143.6 251.8,145.5 252.0,147.4 252.2,149.4 252.5,151.4 252.8,153.5 253.0,155.6 253.2,157.7 253.5,159.9 253.8,162.1 254.0,164.3 254.2,166.6 254.5,168.9 254.8,171.2 255.0,173.6 255.2,176.1 255.5,178.8 255.8,181.5 256.0,184.1 256.2,186.5 256.5,188.8 256.8,191.1 257.0,193.2 257.2,195.3 257.5,197.3 257.8,199.2 258.0,201.0 258.2,202.6 258.5,204.2 258.8,205.7 259.0,207.1 259.2,208.4 259.5,209.8 259.8,211.1 260.0,212.4 260.2,213.8 260.5,215.1 260.8,216.4 261.0,217.7 261.2,218.9 261.5,220.0 261.8,221.0 262.0,222.0 262.2,222.8 262.5,223.6 262.8,224.4 263.0,225.1 263.2,225.8 263.5,226.5 263.8,227.2 264.0,227.8 264.2,228.4 264.5,229.0 264.8,229.5 265.0,229.9 265.2,230.4 265.5,230.8 265.8,231.1 266.0,231.4 266.2,231.7 266.5,232.0 266.8,232.3 267.0,232.6 267.2,232.8 267.5,233.1 267.8,233.3 268.0,233.5 268.2,233.7 268.5,233.9 268.8,234.1 269.0,234.3 269.2,234.5 269.5,234.7 269.8,234.8 270.0,235.0 270.2,235.2 270.5,235.3 270.8,235.5 271.0,235.6 271.2,235.8 271.5,235.9 271.8,236.0 272.0,236.2 272.2,236.3 272.5,236.4 272.8,236.5 273.0,236.7 273.2,236.8 273.5,236.9 273.8,237.0 274.0,237.1 274.2,237.2 274.5,237.3 274.8,237.4 275.0,237.5 275.2,237.6 275.5,237.6 275.8,237.7 276.0,237.8 276.2,237.9 276.5,237.9 276.8,238.0 277.0,238.0 277.2,238.1 277.5,238.2 277.8,238.2 278.0,238.3 278.2,238.3 278.5,238.4 278.8,238.4 279.0,238.5 279.2,238.5 279.5,238.6 279.8,238.6 280.0,238.7 280.2,238.7 280.5,238.8 280.8,238.8 281.0,238.8 281.2,238.9 281.5,238.9 281.8,239.0 282.0,239.0 282.2,239.0 282.5,239.1 282.8,239.1 283.0,239.1 283.2,239.2 283.5,239.2 283.8,239.2 284.0,239.3 284.2,239.3 284.5,239.4 284.8,239.4 285.0,239.4 285.2,239.5 285.5,239.5 285.8,239.5 286.0,239.5 286.2,239.6 286.5,239.6 286.8,239.6 287.0,239.7 287.2,239.7 287.5,239.7 287.8,239.8 288.0,239.8 288.2,239.8 288.5,239.8 288.8,239.9 289.0,239.9 289.2,239.9 289.5,239.9 289.8,240.0 290.0,240.0 290.2,240.0 290.5,240.0 290.8,240.1 291.0,240.1 291.2,240.1 291.5,240.1 291.8,240.1 292.0,240.1 292.2,240.2 292.5,240.2 292.8,240.2 293.0,240.2 293.2,240.2 293.5,240.2 293.8,240.2 294.0,240.3 294.2,240.3 294.5,240.3 294.8,240.3 295.0,240.3 295.2,240.3 295.5,240.3 295.8,240.3 296.0,240.4 296.2,240.4 296.5,240.4 296.8,240.4 297.0,240.4 297.2,240.4 297.5,240.4 297.8,240.4 298.0,240.4 298.2,240.4 298.5,240.5 298.8,240.5 299.0,240.5 299.2,240.5 299.5,240.5 299.8,240.5 300.0,240.5 300.2,240.5 300.5,240.5 300.8,240.5 301.0,240.5 301.2,240.6 301.5,240.6 301.8,240.6 302.0,240.6 302.2,240.6 302.5,240.6 302.8,240.6 303.0,240.6 303.2,240.6 303.5,240.6 303.8,240.6 304.0,240.6 304.2,240.6 304.5,240.7 304.8,240.7 305.0,240.7 305.2,240.7 305.5,240.7 305.8,240.7 306.0,240.7 306.2,240.7 306.5,240.7 306.8,240.7 307.0,240.7 307.2,240.7 307.5,240.7 307.8,240.7 308.0,240.7 308.2,240.8 308.5,240.8 308.8,240.8 309.0,240.8 309.2,240.8 309.5,240.8 309.8,240.8 310.0,240.8 310.2,240.8 310.5,240.8 310.8,240.8 311.0,240.8 311.2,240.8 311.5,240.8 311.8,240.8 312.0,240.9 312.2,240.9 312.5,240.9 312.8,240.9 313.0,240.9 313.2,240.9 313.5,240.9 313.8,240.9 314.0,240.9 314.2,240.9 314.5,240.9 314.8,240.9 315.0,240.9 315.2,240.9 315.5,240.9 315.8,240.9 316.0,241.0 316.2,241.0 316.5,241.0 316.8,241.0 317.0,241.0 317.2,241.0 317.5,241.0 317.8,241.0 318.0,241.0 318.2,241.0 318.5,241.0 318.8,241.0 319.0,241.0 319.2,241.0 319.5,241.0 319.8,241.0 320.0,241.1 320.2,241.1 320.5,241.1 320.8,241.1 321.0,241.1 321.2,241.1 321.5,241.1 321.8,241.1 322.0,241.1 322.2,241.1 322.5,241.1 322.8,241.1 323.0,241.1 323.2,241.1 323.5,241.1 323.8,241.1 324.0,241.1 324.2,241.1 324.5,241.2 324.8,241.2 325.0,241.2 325.2,241.2 325.5,241.2 325.8,241.2 326.0,241.2 326.2,241.2 326.5,241.2 326.8,241.2 327.0,241.2 327.2,241.2 327.5,241.2 327.8,241.2 328.0,241.2 328.2,241.2 328.5,241.2 328.8,241.2 329.0,241.2 329.2,241.3 329.5,241.3 329.8,241.3 330.0,241.3 330.2,241.3 330.5,241.3 330.8,241.3 331.0,241.3 331.2,241.3 331.5,241.3 331.8,241.3 332.0,241.3 332.2,241.3 332.5,241.3 332.8,241.3 333.0,241.3 333.2,241.3 333.5,241.3 333.8,241.3 334.0,241.3 334.2,241.3 334.5,241.3 334.8,241.3 335.0,241.3 335.2,241.4 335.5,241.4 335.8,241.4 336.0,241.4 336.2,241.4 336.5,241.4 336.8,241.4 337.0,241.4 337.2,241.4 337.5,241.4 337.8,241.4 338.0,241.4 338.2,241.4"/>
<polyline stroke="#37AD6B" points="41.5,241.4 41.8,241.4 42.0,241.4 42.2,241.4 42.5,241.4 42.8,241.4 43.0,241.4 43.2,241.4 43.5,241.4 43.8,241.4 44.0,241.4 44.2,241.4 44.5,241.4 44.8,241.4 45.0,241.4 45.2,241.4 45.5,241.4 45.8,241.4 46.0,241.4 46.2,241.4 46.5,241.4 46.8,241.4 47.0,241.4 47.2,241.4 47.5,241.4 47.8,241.4 48.0,241.4 48.2,241.4 48.5,241.4 48.8,241.4 49.0,241.4 49.2,241.4 49.5,241.4 49.8,241.4 50.0,241.4 50.2,241.4 50.5,241.4 50.8,241.4 51.0,241.4 51.2,241.4 51.5,241.4 51.8,241.4 52.0,241.4 52.2,241.4 52.5,241.4 52.8,241.4 53.0,241.4 53.2,241.4 53.5,241.4 53.8,241.4 54.0,241.4 54.2,241.4 54.5,241.4 54.8,241.4 55.0,241.4 55.2,241.4 55.5,241.4 55.8,241.4 56.0,241.4 56.2,241.4 56.5,241.4 56.8,241.4 57.0,241.4 57.2,241.4 57.5,241.4 57.8,241.4 58.0,241.3 58.2,241.3 58.5,241.3 58.8,241.3 59.0,241.2 59.2,241.2 59.5,241.1 59.8,241.1 60.0,241.0 60.2,241.0 60.5,240.9 60.8,240.9 61.0,240.8 61.2,240.7 61.5,240.6 61.8,240.5 62.0,240.5 62.2,240.4 62.5,240.3 62.8,240.2 63.0,240.1 63.2,239.9 63.5,239.8 63.8,239.7 64.0,239.6 64.2,239.4 64.5,239.3 64.8,239.1 65.0,239.0 65.2,238.9 65.5,238.7 65.8,238.6 66.0,238.4 66.2,238.3 66.5,238.1 66.8,237.9 67.0,237.7 67.2,237.6 67.5,237.4 67.8,237.2 68.0,237.0 68.2,236.8 68.5,236.7 68.8,236.5 69.0,236.3 69.2,236.1 69.5,235.9 69.8,235.7 70.0,235.6 70.2,235.4 70.5,235.2 70.8,235.0 71.0,234.8 71.2,234.6 71.5,234.5 71.8,234.3 72.0,234.1 72.2,233.9 72.5,233.7 72.8,233.6 73.0,233.4 73.2,233.2 73.5,233.1 73.8,232.9 74.0,232.8 74.2,232.6 74.5,232.5 74.8,232.3 75.0,232.2 75.2,232.1 75.5,231.9 75.8,231.8 76.0,231.7 76.2,231.5 76.5,231.4 76.8,231.3 77.0,231.2 77.2,231.1 77.5,231.0 77.8,230.9 78.0,230.8 78.2,230.8 78.5,230.7 78.8,230.6 79.0,230.5 79.2,230.4 79.5,230.4 79.8,230.3 80.0,230.2 80.2,230.2 80.5,230.1 80.8,230.1 81.0,230.1 81.2,230.0 81.5,230.0 81.8,230.0 82.0,229.9 82.2,229.9 82.5,229.9 82.8,229.8 83.0,229.8 83.2,229.8 83.5,229.8 83.8,229.7 84.0,229.7 84.2,229.7 84.5,229.7 84.8,229.7 85.0,229.7 85.2,229.7 85.5,229.7 85.8,229.7 86.0,229.8 86.2,229.8 86.5,229.8 86.8,229.9 87.0,229.9 87.2,229.9 87.5,230.0 87.8,230.0 88.0,230.1 88.2,230.2 88.5,230.2 88.8,230.3 89.0,230.3 89.2,230.4 89.5,230.5 89.8,230.5 90.0,230.6 90.2,230.7 90.5,230.8 90.8,230.9 91.0,231.0 91.2,231.1 91.5,231.2 91.8,231.3 92.0,231.5 92.2,231.6 92.5,231.7 92.8,231.8 93.0,231.9 93.2,232.1 93.5,232.2 93.8,232.3 94.0,232.5 94.2,232.6 94.5,232.7 94.8,232.8 95.0,233.0 95.2,233.1 95.5,233.2 95.8,233.4 96.0,233.5 96.2,233.6 96.5,233.8 96.8,233.9 97.0,234.0 97.2,234.2 97.5,234.3 97.8,234.5 98.0,234.6 98.2,234.8 98.5,235.0 98.8,235.1 99.0,235.3 99.2,235.5 99.5,235.7 99.8,235.9 100.0,236.1 100.2,236.3 100.5,236.5 100.8,236.7 101.0,237.0 101.2,237.2 101.5,237.5 101.8,237.7 102.0,238.0 102.2,238.3 102.5,238.6 102.8,238.8 103.0,239.1 103.2,239.3 103.5,239.5 103.8,239.7 104.0,239.9 104.2,240.1 104.5,240.3 104.8,240.4 105.0,240.6 105.2,240.7 105.5,240.8 105.8,240.9 106.0,241.0 106.2,241.1 106.5,241.2 106.8,241.3 107.0,241.3 107.2,241.3 107.5,241.3 107.8,241.3 108.0,241.3 108.2,241.4 108.5,241.4 108.8,241.4 109.0,241.4 109.2,241.4 109.5,241.4 109.8,241.4 110.0,241.4 110.2,241.4 110.5,241.4 110.8,241.4 111.0,241.3 111.2,241.3 111.5,241.3 111.8,241.2 112.0,241.2 112.2,241.2 112.5,241.2 112.8,241.1 113.0,241.1 113.2,241.1 113.5,241.1 113.8,241.0 114.0,241.0 114.2,241.0 114.5,241.0 114.8,241.0 115.0,241.0 115.2,240.9 115.5,240.9 115.8,240.9 116.0,240.9 116.2,240.9 116.5,240.9 116.8,240.8 117.0,240.8 117.2,240.8 117.5,240.8 117.8,240.8 118.0,240.8 118.2,240.8 118.5,240.7 118.8,240.7 119.0,240.7 119.2,240.7 119.5,240.7 119.8,240.7 120.0,240.6 120.2,240.6 120.5,240.6 120.8,240.6 121.0,240.6 121.2,240.6 121.5,240.5 121.8,240.5 122.0,240.5 122.2,240.5 122.5,240.4 122.8,240.4 123.0,240.4 123.2,240.4 123.5,240.3 123.8,240.3 124.0,240.3 124.2,240.2 124.5,240.2 124.8,240.1 125.0,240.1 125.2,240.1 125.5,240.0 125.8,240.0 126.0,239.9 126.2,239.9 126.5,239.8 126.8,239.8 127.0,239.7 127.2,239.7 127.5,239.6 127.8,239.5 128.0,239.5 128.2,239.4 128.5,239.4 128.8,239.3 129.0,239.2 129.2,239.2 129.5,239.1 129.8,239.0 130.0,239.0 130.2,238.9 130.5,238.8 130.8,238.8 131.0,238.7 131.2,238.6 131.5,238.5 131.8,238.5 132.0,238.4 132.2,238.3 132.5,238.3 132.8,238.2 133.0,238.1 133.2,238.0 133.5,237.9 133.8,237.9 134.0,237.8 134.2,237.7 134.5,237.6 134.8,237.6 135.0,237.5 135.2,237.4 135.5,237.3 135.8,237.2 136.0,237.1 136.2,237.0 136.5,236.9 136.8,236.8 137.0,236.7 137.2,236.6 137.5,236.5 137.8,236.4 138.0,236.3 138.2,236.2 138.5,236.1 138.8,236.0 139.0,235.9 139.2,235.8 139.5,235.7 139.8,235.5 140.0,235.4 140.2,235.3 140.5,235.2 140.8,235.1 141.0,234.9 141.2,234.8 141.5,234.7 141.8,234.6 142.0,234.4 142.2,234.3 142.5,234.2 142.8,234.1 143.0,233.9 143.2,233.8 143.5,233.7 143.8,233.5 144.0,233.4 144.2,233.3 144.5,233.1 144.8,233.0 145.0,232.9 145.2,232.7 145.5,232.6 145.8,232.5 146.0,232.3 146.2,232.2 146.5,232.1 146.8,231.9 147.0,231.8 147.2,231.6 147.5,231.5 147.8,231.3 148.0,231.2 148.2,231.0 148.5,230.9 148.8,230.7 149.0,230.6 149.2,230.4 149.5,230.3 149.8,230.1 150.0,230.0 150.2,229.8 150.5,229.6 150.8,229.5 151.0,229.3 151.2,229.1 151.5,229.0 151.8,228.8 152.0,228.6 152.2,228.5 152.5,228.3 152.8,228.1 153.0,228.0 153.2,227.8 153.5,227.6 153.8,227.4 154.0,227.3 154.2,227.1 154.5,226.9 154.8,226.8 155.0,226.6 155.2,226.4 155.5,226.2 155.8,226.1 156.0,225.9 156.2,225.7 156.5,225.5 156.8,225.3 157.0,225.2 157.2,225.0 157.5,224.8 157.8,224.6 158.0,224.4 158.2,224.3 158.5,224.1 158.8,223.9 159.0,223.7 159.2,223.5 159.5,223.3 159.8,223.1 160.0,222.9 160.2,222.7 160.5,222.5 160.8,222.3 161.0,222.1 161.2,221.9 161.5,221.7 161.8,221.5 162.0,221.3 162.2,221.1 162.5,220.9 162.8,220.7 163.0,220.5 163.2,220.4 163.5,220.2 163.8,220.0 164.0,219.8 164.2,219.6 164.5,219.4 164.8,219.2 165.0,219.0 165.2,218.8 165.5,218.6 165.8,218.5 166.0,218.3 166.2,218.1 166.5,217.9 166.8,217.8 167.0,217.6 167.2,217.4 167.5,217.3 167.8,217.1 168.0,216.9 168.2,216.8 168.5,216.6 168.8,216.4 169.0,216.2 169.2,216.0 169.5,215.8 169.8,215.6 170.0,215.5 170.2,215.3 170.5,215.1 170.8,214.9 171.0,214.7 171.2,214.5 171.5,214.3 171.8,214.1 172.0,213.9 172.2,213.7 172.5,213.5 172.8,213.3 173.0,213.1 173.2,212.9 173.5,212.7 173.8,212.5 174.0,212.3 174.2,212.1 174.5,211.9 174.8,211.7 175.0,211.5 175.2,211.3 175.5,211.1 175.8,210.9 176.0,210.7 176.2,210.5 176.5,210.3 176.8,210.1 177.0,209.9 177.2,209.6 177.5,209.2 177.8,209.2 178.0,209.2 178.2,208.9 178.5,208.6 178.8,208.4 179.0,208.6 179.2,208.0 179.5,207.7 179.8,207.4 180.0,207.7 180.2,207.5 180.5,207.3 180.8,206.7 181.0,206.9 181.2,207.0 181.5,207.5 181.8,207.4 182.0,207.8 182.2,207.6 182.5,208.0 182.8,207.9 183.0,207.9 183.2,208.0 183.5,207.7 183.8,207.8 184.0,207.5 184.2,207.6 184.5,207.4 184.8,207.4 185.0,207.0 185.2,207.2 185.5,207.1 185.8,207.2 186.0,206.6 186.2,205.9 186.5,205.4 186.8,205.1 187.0,205.2 187.2,205.6 187.5,205.2 187.8,205.3 188.0,204.8 188.2,205.0 188.5,204.7 188.8,204.3 189.0,203.9 189.2,203.6 189.5,203.6 189.8,203.2 190.0,203.0 190.2,202.7 190.5,202.4 190.8,202.1 191.0,202.1 191.2,201.9 191.5,201.6 191.8,201.5 192.0,201.5 192.2,201.0 192.5,200.0 192.8,199.4 193.0,199.3 193.2,198.9 193.5,198.2 193.8,198.3 194.0,199.3 194.2,200.3 194.5,200.8 194.8,201.0 195.0,201.3 195.2,200.7 195.5,199.5 195.8,197.5 196.0,196.1 196.2,194.0 196.5,193.3 196.8,192.0 197.0,191.3 197.2,190.1 197.5,188.7 197.8,187.6 198.0,186.6 198.2,185.9 198.5,185.6 198.8,185.1 199.0,185.4 199.2,185.6 199.5,185.0 199.8,184.0 200.0,183.2 200.2,183.4 200.5,183.1 200.8,182.4 201.0,181.9 201.2,181.2 201.5,180.6 201.8,179.7 202.0,178.7 202.2,177.6 202.5,176.2 202.8,175.2 203.0,173.7 203.2,173.0 203.5,172.1 203.8,172.2 204.0,172.0 204.2,171.4 204.5,170.1 204.8,168.7 205.0,167.9 205.2,166.9 205.5,166.3 205.8,165.4 206.0,165.1 206.2,164.2 206.5,163.2 206.8,161.8 207.0,161.0 207.2,160.1 207.5,159.1 207.8,158.0 208.0,157.1 208.2,157.0 208.5,156.0 208.8,155.0 209.0,152.9 209.2,152.0 209.5,151.0 209.8,150.1 210.0,148.3 210.2,146.7 210.5,145.1 210.8,143.3 211.0,140.9 211.2,138.2 211.5,134.9 211.8,132.0 212.0,129.0 212.2,126.5 212.5,123.8 212.8,121.3 213.0,118.6 213.2,115.5 213.5,112.6 213.8,110.1 214.0,107.9 214.2,105.6 214.5,103.4 214.8,101.1 215.0,98.7 215.2,96.6 215.5,94.8 215.8,93.4 216.0,92.0 216.2,90.6 216.5,89.2 216.8,87.8 217.0,86.7 217.2,85.6 217.5,85.0 217.8,84.4 218.0,84.0 218.2,83.5 218.5,83.2 218.8,83.0 219.0,82.9 219.2,83.0 219.5,83.2 219.8,83.6 220.0,84.0 220.2,84.4 220.5,85.0 220.8,85.9 221.0,86.9 221.2,87.8 221.5,88.4 221.8,88.6 222.0,88.6 222.2,88.5 222.5,88.3 222.8,88.2 223.0,88.0 223.2,87.6 223.5,86.9 223.8,86.0 224.0,84.9 224.2,83.7 224.5,82.4 224.8,81.2 225.0,80.0 225.2,78.8 225.5,77.6 225.8,76.4 226.0,75.1 226.2,73.7 226.5,72.5 226.8,71.2 227.0,70.0 227.2,68.9 227.5,67.8 227.8,66.8 228.0,65.9 228.2,64.9 228.5,63.8 228.8,62.8 229.0,61.6 229.2,60.3 229.5,58.8 229.8,57.0 230.0,55.1 230.2,53.0 230.5,50.8 230.8,48.7 231.0,46.6 231.2,44.7 231.5,43.0 231.8,41.4 232.0,39.9 232.2,38.4 232.5,36.9 232.8,35.6 233.0,34.4 233.2,33.3 233.5,32.3 233.8,31.6 234.0,30.9 234.2,30.2 234.5,29.7 234.8,29.1 235.0,28.6 235.2,28.2 235.5,27.7 235.8,27.3 236.0,26.8 236.2,26.4 236.5,26.0 236.8,25.5 237.0,25.0 237.2,24.5 237.5,24.0 237.8,23.5 238.0,23.0 238.2,22.5 238.5,22.0 238.8,21.5 239.0,21.0 239.2,20.5 239.5,20.0 239.8,19.5 240.0,19.0 240.2,18.5 240.5,18.0 240.8,17.5 241.0,17.0 241.2,16.5 241.5,16.0 241.8,15.4 242.0,14.9 242.2,14.3 242.5,13.8 242.8,13.3 243.0,12.9 243.2,12.5 243.5,12.2 243.8,11.9 244.0,11.6 244.2,11.4 244.5,11.2 244.8,11.1 245.0,11.2 245.2,11.4 245.5,11.7 245.8,12.2 246.0,12.7 246.2,13.3 246.5,14.1 246.8,15.3 247.0,16.8 247.2,18.7 247.5,20.7 247.8,22.8 248.0,25.0 248.2,27.4 248.5,30.1 248.8,33.0 249.0,36.0 249.2,39.1 249.5,42.0 249.8,44.8 250.0,47.5 250.2,50.2 250.5,52.9 250.8,55.6 251.0,58.4 251.2,61.4 251.5,64.5 251.8,67.9 252.0,71.3 252.2,74.9 252.5,78.4 252.8,81.8 253.0,85.0 253.2,88.0 253.5,90.9 253.8,93.7 254.0,96.4 254.2,99.2 254.5,102.1 254.8,105.1 255.0,108.3 255.2,111.8 255.5,115.5 255.8,119.3 256.0,123.0 256.2,126.7 256.5,130.4 256.8,134.2 257.0,137.9 257.2,141.6 257.5,145.2 257.8,148.7 258.0,152.0 258.2,155.2 258.5,158.3 258.8,161.3 259.0,164.3 259.2,167.1 259.5,169.8 259.8,172.5 260.0,175.0 260.2,177.4 260.5,179.7 260.8,181.9 261.0,184.0 261.2,186.0 261.5,188.0 261.8,190.0 262.0,191.9 262.2,193.8 262.5,195.6 262.8,197.3 263.0,199.0 263.2,200.6 263.5,202.1 263.8,203.5 264.0,204.9 264.2,206.2 264.5,207.5 264.8,208.8 265.0,210.1 265.2,211.4 265.5,212.7 265.8,213.9 266.0,215.0 266.2,216.1 266.5,217.1 266.8,218.1 267.0,219.0 267.2,219.9 267.5,220.8 267.8,221.7 268.0,222.6 268.2,223.4 268.5,224.2 268.8,224.9 269.0,225.6 269.2,226.2 269.5,226.7 269.8,227.2 270.0,227.5 270.2,227.9 270.5,228.2 270.8,228.5 271.0,228.7 271.2,229.0 271.5,229.2 271.8,229.5 272.0,229.7 272.2,229.9 272.5,230.1 272.8,230.3 273.0,230.5 273.2,230.7 273.5,230.9 273.8,231.0 274.0,231.2 274.2,231.3 274.5,231.5 274.8,231.6 275.0,231.8 275.2,231.9 275.5,232.1 275.8,232.2 276.0,232.4 276.2,232.5 276.5,232.7 276.8,232.8 277.0,232.9 277.2,233.1 277.5,233.2 277.8,233.3 278.0,233.5 278.2,233.6 278.5,233.7 278.8,233.8 279.0,233.9 279.2,234.0 279.5,234.2 279.8,234.3 280.0,234.4 280.2,234.5 280.5,234.6 280.8,234.7 281.0,234.8 281.2,234.8 281.5,234.9 281.8,235.0 282.0,235.1 282.2,235.2 282.5,235.3 282.8,235.3 283.0,235.4 283.2,235.5 283.5,235.6 283.8,235.6 284.0,235.7 284.2,235.8 284.5,235.8 284.8,235.9 285.0,236.0 285.2,236.0 285.5,236.1 285.8,236.2 286.0,236.2 286.2,236.3 286.5,236.4 286.8,236.4 287.0,236.5 287.2,236.5 287.5,236.6 287.8,236.7 288.0,236.7 288.2,236.8 288.5,236.8 288.8,236.9 289.0,236.9 289.2,237.0 289.5,237.0 289.8,237.1 290.0,237.2 290.2,237.2 290.5,237.3 290.8,237.3 291.0,237.4 291.2,237.4 291.5,237.5 291.8,237.5 292.0,237.5 292.2,237.6 292.5,237.6 292.8,237.7 293.0,237.7 293.2,237.8 293.5,237.8 293.8,237.8 294.0,237.9 294.2,237.9 294.5,238.0 294.8,238.0 295.0,238.0 295.2,238.1 295.5,238.1 295.8,238.2 296.0,238.2 296.2,238.2 296.5,238.3 296.8,238.3 297.0,238.3 297.2,238.4 297.5,238.4 297.8,238.5 298.0,238.5 298.2,238.5 298.5,238.6 298.8,238.6 299.0,238.6 299.2,238.7 299.5,238.7 299.8,238.7 300.0,238.8 300.2,238.8 300.5,238.8 300.8,238.9 301.0,238.9 301.2,238.9 301.5,238.9 301.8,239.0 302.0,239.0 302.2,239.0 302.5,239.0 302.8,239.1 303.0,239.1 303.2,239.1 303.5,239.1 303.8,239.2 304.0,239.2 304.2,239.2 304.5,239.2 304.8,239.2 305.0,239.3 305.2,239.3 305.5,239.3 305.8,239.3 306.0,239.3 306.2,239.3 306.5,239.4 306.8,239.4 307.0,239.4 307.2,239.4 307.5,239.4 307.8,239.4 308.0,239.5 308.2,239.5 308.5,239.5 308.8,239.5 309.0,239.5 309.2,239.5 309.5,239.5 309.8,239.6 310.0,239.6 310.2,239.6 310.5,239.6 310.8,239.6 311.0,239.6 311.2,239.6 311.5,239.7 311.8,239.7 312.0,239.7 312.2,239.7 312.5,239.7 312.8,239.7 313.0,239.7 313.2,239.7 313.5,239.8 313.8,239.8 314.0,239.8 314.2,239.8 314.5,239.8 314.8,239.8 315.0,239.8 315.2,239.8 315.5,239.8 315.8,239.9 316.0,239.9 316.2,239.9 316.5,239.9 316.8,239.9 317.0,239.9 317.2,239.9 317.5,239.9 317.8,239.9 318.0,239.9 318.2,240.0 318.5,240.0 318.8,240.0 319.0,240.0 319.2,240.0 319.5,240.0 319.8,240.0 320.0,240.0 320.2,240.0 320.5,240.0 320.8,240.1 321.0,240.1 321.2,240.1 321.5,240.1 321.8,240.1 322.0,240.1 322.2,240.1 322.5,240.1 322.8,240.1 323.0,240.1 323.2,240.1 323.5,240.2 323.8,240.2 324.0,240.2 324.2,240.2 324.5,240.2 324.8,240.2 325.0,240.2 325.2,240.2 325.5,240.2 325.8,240.2 326.0,240.2 326.2,240.3 326.5,240.3 326.8,240.3 327.0,240.3 327.2,240.3 327.5,240.3 327.8,240.3 328.0,240.3 328.2,240.3 328.5,240.3 328.8,240.3 329.0,240.3 329.2,240.4 329.5,240.4 329.8,240.4 330.0,240.4 330.2,240.4 330.5,240.4 330.8,240.4 331.0,240.4 331.2,240.4 331.5,240.4 331.8,240.4 332.0,240.4 332.2,240.4 332.5,240.4 332.8,240.5 333.0,240.5 333.2,240.5 333.5,240.5 333.8,240.5 334.0,240.5 334.2,240.5 334.5,240.5 334.8,240.5 335.0,240.5 335.2,240.5 335.5,240.5 335.8,240.5 336.0,240.5 336.2,240.5 336.5,240.5 336.8,240.6 337.0,240.6 337.2,240.6 337.5,240.6 337.8,240.6 338.0,240.6 338.2,240.6"/>
<polyline stroke="#B177DE" points="41.5,241.4 41.8,241.4 42.0,241.4 42.2,241.4 42.5,241.4 42.8,241.4 43.0,241.4 43.2,241.4 43.5,241.4 43.8,241.4 44.0,241.4 44.2,241.4 44.5,241.4 44.8,241.4 45.0,241.4 45.2,241.4 45.5,241.4 45.8,241.4 46.0,241.4 46.2,241.4 46.5,241.4 46.8,241.4 47.0,241.4 47.2,241.4 47.5,241.4 47.8,241.4 48.0,241.4 48.2,241.4 48.5,241.4 48.8,241.4 49.0,241.4 49.2,241.4 49.5,241.4 49.8,241.4 50.0,241.4 50.2,241.4 50.5,241.4 50.8,241.4 51.0,241.4 51.2,241.4 51.5,241.4 51.8,241.4 52.0,241.4 52.2,241.4 52.5,241.4 52.8,241.4 53.0,241.4 53.2,241.4 53.5,241.4 53.8,241.4 54.0,241.4 54.2,241.4 54.5,241.4 54.8,241.4 55.0,241.4 55.2,241.4 55.5,241.4 55.8,241.4 56.0,241.4 56.2,241.4 56.5,241.4 56.8,241.4 57.0,241.4 57.2,241.4 57.5,241.4 57.8,241.4 58.0,241.3 58.2,241.3 58.5,241.3 58.8,241.3 59.0,241.2 59.2,241.2 59.5,241.1 59.8,241.1 60.0,241.0 60.2,241.0 60.5,240.9 60.8,240.8 61.0,240.8 61.2,240.7 61.5,240.6 61.8,240.5 62.0,240.5 62.2,240.4 62.5,240.3 62.8,240.2 63.0,240.1 63.2,239.9 63.5,239.8 63.8,239.7 64.0,239.5 64.2,239.4 64.5,239.3 64.8,239.1 65.0,239.0 65.2,238.8 65.5,238.7 65.8,238.5 66.0,238.4 66.2,238.2 66.5,238.1 66.8,237.9 67.0,237.7 67.2,237.5 67.5,237.4 67.8,237.2 68.0,237.0 68.2,236.8 68.5,236.6 68.8,236.4 69.0,236.2 69.2,236.0 69.5,235.9 69.8,235.7 70.0,235.5 70.2,235.3 70.5,235.1 70.8,235.0 71.0,234.8 71.2,234.6 71.5,234.4 71.8,234.2 72.0,234.0 72.2,233.9 72.5,233.7 72.8,233.5 73.0,233.3 73.2,233.2 73.5,233.0 73.8,232.9 74.0,232.7 74.2,232.6 74.5,232.4 74.8,232.3 75.0,232.1 75.2,232.0 75.5,231.8 75.8,231.7 76.0,231.6 76.2,231.5 76.5,231.3 76.8,231.2 77.0,231.1 77.2,231.0 77.5,230.9 77.8,230.9 78.0,230.8 78.2,230.7 78.5,230.6 78.8,230.5 79.0,230.4 79.2,230.3 79.5,230.3 79.8,230.2 80.0,230.1 80.2,230.1 80.5,230.0 80.8,230.0 81.0,230.0 81.2,229.9 81.5,229.9 81.8,229.9 82.0,229.8 82.2,229.8 82.5,229.8 82.8,229.7 83.0,229.7 83.2,229.7 83.5,229.7 83.8,229.6 84.0,229.6 84.2,229.6 84.5,229.6 84.8,229.6 85.0,229.6 85.2,229.6 85.5,229.6 85.8,229.6 86.0,229.7 86.2,229.7 86.5,229.7 86.8,229.8 87.0,229.8 87.2,229.8 87.5,229.9 87.8,229.9 88.0,230.0 88.2,230.1 88.5,230.1 88.8,230.2 89.0,230.2 89.2,230.3 89.5,230.4 89.8,230.4 90.0,230.5 90.2,230.6 90.5,230.7 90.8,230.8 91.0,230.9 91.2,231.0 91.5,231.1 91.8,231.3 92.0,231.4 92.2,231.5 92.5,231.6 92.8,231.7 93.0,231.9 93.2,232.0 93.5,232.1 93.8,232.2 94.0,232.4 94.2,232.5 94.5,232.6 94.8,232.8 95.0,232.9 95.2,233.0 95.5,233.2 95.8,233.3 96.0,233.4 96.2,233.6 96.5,233.7 96.8,233.8 97.0,234.0 97.2,234.1 97.5,234.3 97.8,234.4 98.0,234.6 98.2,234.7 98.5,234.9 98.8,235.1 99.0,235.3 99.2,235.4 99.5,235.6 99.8,235.8 100.0,236.0 100.2,236.2 100.5,236.5 100.8,236.7 101.0,236.9 101.2,237.2 101.5,237.4 101.8,237.7 102.0,238.0 102.2,238.3 102.5,238.5 102.8,238.8 103.0,239.0 103.2,239.3 103.5,239.5 103.8,239.7 104.0,239.9 104.2,240.1 104.5,240.3 104.8,240.4 105.0,240.6 105.2,240.7 105.5,240.8 105.8,240.9 106.0,241.0 106.2,241.1 106.5,241.2 106.8,241.3 107.0,241.3 107.2,241.3 107.5,241.3 107.8,241.3 108.0,241.3 108.2,241.4 108.5,241.4 108.8,241.4 109.0,241.4 109.2,241.4 109.5,241.4 109.8,241.4 110.0,241.4 110.2,241.4 110.5,241.4 110.8,241.4 111.0,241.3 111.2,241.3 111.5,241.3 111.8,241.2 112.0,241.2 112.2,241.2 112.5,241.1 112.8,241.1 113.0,241.1 113.2,241.1 113.5,241.1 113.8,241.1 114.0,241.0 114.2,241.0 114.5,241.0 114.8,241.0 115.0,241.0 115.2,241.0 115.5,241.0 115.8,240.9 116.0,240.9 116.2,240.9 116.5,240.9 116.8,240.9 117.0,240.9 117.2,240.9 117.5,240.9 117.8,240.9 118.0,240.9 118.2,240.8 118.5,240.8 118.8,240.8 119.0,240.8 119.2,240.8 119.5,240.8 119.8,240.8 120.0,240.8 120.2,240.8 120.5,240.7 120.8,240.7 121.0,240.7 121.2,240.7 121.5,240.7 121.8,240.7 122.0,240.7 122.2,240.6 122.5,240.6 122.8,240.6 123.0,240.6 123.2,240.6 123.5,240.6 123.8,240.5 124.0,240.5 124.2,240.5 124.5,240.5 124.8,240.4 125.0,240.4 125.2,240.4 125.5,240.4 125.8,240.3 126.0,240.3 126.2,240.3 126.5,240.2 126.8,240.2 127.0,240.2 127.2,240.1 127.5,240.1 127.8,240.1 128.0,240.0 128.2,240.0 128.5,240.0 128.8,239.9 129.0,239.9 129.2,239.8 129.5,239.8 129.8,239.8 130.0,239.7 130.2,239.7 130.5,239.6 130.8,239.6 131.0,239.5 131.2,239.5 131.5,239.5 131.8,239.4 132.0,239.4 132.2,239.3 132.5,239.3 132.8,239.2 133.0,239.2 133.2,239.1 133.5,239.1 133.8,239.0 134.0,239.0 134.2,238.9 134.5,238.9 134.8,238.8 135.0,238.7 135.2,238.7 135.5,238.6 135.8,238.5 136.0,238.5 136.2,238.4 136.5,238.3 136.8,238.3 137.0,238.2 137.2,238.1 137.5,238.0 137.8,237.9 138.0,237.8 138.2,237.7 138.5,237.7 138.8,237.6 139.0,237.5 139.2,237.4 139.5,237.3 139.8,237.2 140.0,237.1 140.2,237.0 140.5,236.9 140.8,236.8 141.0,236.7 141.2,236.6 141.5,236.5 141.8,236.4 142.0,236.3 142.2,236.2 142.5,236.1 142.8,235.9 143.0,235.8 143.2,235.7 143.5,235.6 143.8,235.5 144.0,235.4 144.2,235.3 144.5,235.2 144.8,235.1 145.0,235.0 145.2,234.9 145.5,234.8 145.8,234.7 146.0,234.6 146.2,234.5 146.5,234.4 146.8,234.3 147.0,234.1 147.2,234.0 147.5,233.9 147.8,233.8 148.0,233.7 148.2,233.6 148.5,233.5 148.8,233.4 149.0,233.3 149.2,233.1 149.5,233.0 149.8,232.9 150.0,232.8 150.2,232.7 150.5,232.6 150.8,232.4 151.0,232.3 151.2,232.2 151.5,232.1 151.8,232.0 152.0,231.8 152.2,231.7 152.5,231.6 152.8,231.5 153.0,231.4 153.2,231.2 153.5,231.1 153.8,231.0 154.0,230.9 154.2,230.7 154.5,230.6 154.8,230.5 155.0,230.4 155.2,230.2 155.5,230.1 155.8,230.0 156.0,229.9 156.2,229.7 156.5,229.6 156.8,229.5 157.0,229.4 157.2,229.2 157.5,229.1 157.8,229.0 158.0,228.8 158.2,228.7 158.5,228.6 158.8,228.4 159.0,228.3 159.2,228.2 159.5,228.0 159.8,227.9 160.0,227.8 160.2,227.6 160.5,227.5 160.8,227.4 161.0,227.2 161.2,227.1 161.5,226.9 161.8,226.8 162.0,226.7 162.2,226.5 162.5,226.4 162.8,226.2 163.0,226.1 163.2,226.0 163.5,225.8 163.8,225.7 164.0,225.5 164.2,225.4 164.5,225.2 164.8,225.1 165.0,225.0 165.2,224.8 165.5,224.7 165.8,224.5 166.0,224.4 166.2,224.2 166.5,224.1 166.8,224.0 167.0,223.8 167.2,223.7 167.5,223.5 167.8,223.4 168.0,223.2 168.2,223.1 168.5,223.0 168.8,222.8 169.0,222.7 169.2,222.5 169.5,222.4 169.8,222.2 170.0,222.1 170.2,221.9 170.5,221.8 170.8,221.6 171.0,221.5 171.2,221.3 171.5,221.2 171.8,221.0 172.0,220.8 172.2,220.7 172.5,220.5 172.8,220.4 173.0,220.2 173.2,220.1 173.5,219.9 173.8,219.8 174.0,219.6 174.2,219.5 174.5,219.3 174.8,219.2 175.0,219.1 175.2,218.9 175.5,218.8 175.8,218.6 176.0,218.5 176.2,218.3 176.5,218.2 176.8,218.1 177.0,218.0 177.2,217.7 177.5,217.5 177.8,217.5 178.0,217.6 178.2,217.5 178.5,217.4 178.8,217.4 179.0,217.0 179.2,217.0 179.5,216.6 179.8,216.4 180.0,216.4 180.2,216.6 180.5,216.3 180.8,215.8 181.0,215.7 181.2,216.3 181.5,216.3 181.8,216.1 182.0,215.4 182.2,216.1 182.5,216.1 182.8,216.6 183.0,216.0 183.2,216.1 183.5,215.9 183.8,215.6 184.0,215.5 184.2,215.4 184.5,215.7 184.8,215.3 185.0,215.2 185.2,215.2 185.5,215.8 185.8,216.1 186.0,215.9 186.2,215.4 186.5,214.8 186.8,214.8 187.0,214.4 187.2,214.3 187.5,213.7 187.8,213.2 188.0,213.0 188.2,213.1 188.5,213.3 188.8,212.9 189.0,212.6 189.2,212.3 189.5,212.4 189.8,211.8 190.0,211.5 190.2,211.2 190.5,211.3 190.8,211.7 191.0,211.2 191.2,210.9 191.5,209.9 191.8,209.1 192.0,208.3 192.2,208.2 192.5,207.9 192.8,208.3 193.0,208.4 193.2,208.8 193.5,209.2 193.8,209.5 194.0,210.3 194.2,210.4 194.5,210.9 194.8,210.6 195.0,210.7 195.2,209.7 195.5,209.0 195.8,208.0 196.0,207.1 196.2,206.2 196.5,205.2 196.8,204.3 197.0,203.0 197.2,201.8 197.5,200.7 197.8,199.7 198.0,198.7 198.2,197.3 198.5,196.9 198.8,196.1 199.0,195.9 199.2,195.5 199.5,195.2 199.8,195.0 200.0,194.2 200.2,193.7 200.5,192.8 200.8,192.5 201.0,192.3 201.2,192.1 201.5,191.8 201.8,190.7 202.0,189.7 202.2,188.7 202.5,188.2 202.8,187.8 203.0,187.2 203.2,186.6 203.5,186.0 203.8,185.5 204.0,185.1 204.2,184.5 204.5,184.0 204.8,183.5 205.0,183.1 205.2,182.6 205.5,181.5 205.8,181.2 206.0,179.9 206.2,179.1 206.5,177.7 206.8,177.8 207.0,177.4 207.2,176.8 207.5,175.3 207.8,174.4 208.0,173.5 208.2,172.7 208.5,171.1 208.8,169.6 209.0,168.4 209.2,167.4 209.5,166.3 209.8,164.8 210.0,162.9 210.2,161.5 210.5,159.9 210.8,158.9 211.0,157.6 211.2,156.3 211.5,154.7 211.8,153.6 212.0,152.6 212.2,151.4 212.5,149.3 212.8,148.0 213.0,146.9 213.2,146.2 213.5,144.6 213.8,142.6 214.0,140.6 214.2,138.9 214.5,136.9 214.8,135.0 215.0,132.7 215.2,130.8 215.5,128.3 215.8,126.0 216.0,123.7 216.2,121.7 216.5,120.0 216.8,118.6 217.0,117.2 217.2,116.0 217.5,114.9 217.8,114.1 218.0,113.5 218.2,113.0 218.5,112.4 218.8,112.0 219.0,111.7 219.2,111.5 219.5,111.4 219.8,111.3 220.0,111.3 220.2,111.3 220.5,111.3 220.8,111.2 221.0,111.2 221.2,111.1 221.5,111.1 221.8,110.9 222.0,110.8 222.2,110.7 222.5,110.5 222.8,110.3 223.0,109.9 223.2,109.5 223.5,109.1 223.8,108.6 224.0,108.0 224.2,107.4 224.5,106.6 224.8,105.7 225.0,104.8 225.2,103.8 225.5,102.8 225.8,101.8 226.0,100.8 226.2,99.7 226.5,98.6 226.8,97.4 227.0,96.2 227.2,95.0 227.5,93.8 227.8,92.5 228.0,91.2 228.2,89.8 228.5,88.4 228.8,87.0 229.0,85.5 229.2,84.1 229.5,82.7 229.8,81.3 230.0,80.0 230.2,78.7 230.5,77.4 230.8,76.1 231.0,74.9 231.2,73.6 231.5,72.4 231.8,71.2 232.0,70.0 232.2,68.8 232.5,67.7 232.8,66.5 233.0,65.4 233.2,64.3 233.5,63.2 233.8,62.1 234.0,61.1 234.2,60.2 234.5,59.3 234.8,58.4 235.0,57.5 235.2,56.7 235.5,55.9 235.8,55.1 236.0,54.3 236.2,53.5 236.5,52.8 236.8,52.1 237.0,51.4 237.2,50.7 237.5,50.0 237.8,49.3 238.0,48.7 238.2,48.1 238.5,47.5 238.8,46.9 239.0,46.3 239.2,45.8 239.5,45.2 239.8,44.7 240.0,44.1 240.2,43.6 240.5,43.1 240.8,42.5 241.0,42.0 241.2,41.5 241.5,40.9 241.8,40.3 242.0,39.7 242.2,39.2 242.5,38.7 242.8,38.2 243.0,37.7 243.2,37.3 243.5,37.0 243.8,36.7 244.0,36.4 244.2,36.2 244.5,36.0 244.8,35.9 245.0,36.0 245.2,36.2 245.5,36.5 245.8,36.9 246.0,37.4 246.2,37.9 246.5,38.5 246.8,39.4 247.0,40.6 247.2,41.9 247.5,43.2 247.8,44.6 248.0,46.0 248.2,47.4 248.5,48.8 248.8,50.2 249.0,51.8 249.2,53.4 249.5,55.0 249.8,56.7 250.0,58.4 250.2,60.2 250.5,62.2 250.8,64.5 251.0,67.2 251.2,70.3 251.5,73.7 251.8,77.3 252.0,80.9 252.2,84.5 252.5,88.0 252.8,91.3 253.0,94.7 253.2,98.1 253.5,101.4 253.8,104.8 254.0,108.1 254.2,111.4 254.5,114.8 254.8,118.0 255.0,121.3 255.2,124.6 255.5,127.8 255.8,131.1 256.0,134.4 256.2,137.6 256.5,140.8 256.8,144.0 257.0,147.1 257.2,150.1 257.5,153.1 257.8,156.0 258.0,158.9 258.2,161.8 258.5,164.6 258.8,167.3 259.0,170.0 259.2,172.5 259.5,175.0 259.8,177.4 260.0,179.7 260.2,181.9 260.5,184.0 260.8,186.0 261.0,188.0 261.2,189.9 261.5,191.7 261.8,193.4 262.0,195.1 262.2,196.8 262.5,198.4 262.8,199.9 263.0,201.4 263.2,202.9 263.5,204.3 263.8,205.7 264.0,207.0 264.2,208.2 264.5,209.5 264.8,210.6 265.0,211.8 265.2,212.9 265.5,214.0 265.8,215.0 266.0,216.0 266.2,217.0 266.5,217.9 266.8,218.7 267.0,219.6 267.2,220.5 267.5,221.4 267.8,222.2 268.0,223.1 268.2,223.8 268.5,224.6 268.8,225.3 269.0,225.9 269.2,226.5 269.5,227.0 269.8,227.4 270.0,227.7 270.2,228.0 270.5,228.3 270.8,228.6 271.0,228.8 271.2,229.1 271.5,229.3 271.8,229.5 272.0,229.7 272.2,229.9 272.5,230.1 272.8,230.3 273.0,230.4 273.2,230.6 273.5,230.8 273.8,230.9 274.0,231.0 274.2,231.2 274.5,231.3 274.8,231.5 275.0,231.6 275.2,231.7 275.5,231.9 275.8,232.0 276.0,232.2 276.2,232.3 276.5,232.4 276.8,232.6 277.0,232.7 277.2,232.8 277.5,233.0 277.8,233.1 278.0,233.2 278.2,233.3 278.5,233.4 278.8,233.5 279.0,233.7 279.2,233.8 279.5,233.9 279.8,234.0 280.0,234.1 280.2,234.2 280.5,234.3 280.8,234.4 281.0,234.5 281.2,234.5 281.5,234.6 281.8,234.7 282.0,234.8 282.2,234.9 282.5,235.0 282.8,235.0 283.0,235.1 283.2,235.2 283.5,235.3 283.8,235.3 284.0,235.4 284.2,235.5 284.5,235.5 284.8,235.6 285.0,235.7 285.2,235.7 285.5,235.8 285.8,235.9 286.0,235.9 286.2,236.0 286.5,236.1 286.8,236.1 287.0,236.2 287.2,236.2 287.5,236.3 287.8,236.4 288.0,236.4 288.2,236.5 288.5,236.5 288.8,236.6 289.0,236.6 289.2,236.7 289.5,236.7 289.8,236.8 290.0,236.8 290.2,236.9 290.5,236.9 290.8,237.0 291.0,237.0 291.2,237.1 291.5,237.1 291.8,237.2 292.0,237.2 292.2,237.3 292.5,237.3 292.8,237.4 293.0,237.4 293.2,237.5 293.5,237.5 293.8,237.6 294.0,237.6 294.2,237.6 294.5,237.7 294.8,237.7 295.0,237.8 295.2,237.8 295.5,237.8 295.8,237.9 296.0,237.9 296.2,238.0 296.5,238.0 296.8,238.0 297.0,238.1 297.2,238.1 297.5,238.2 297.8,238.2 298.0,238.2 298.2,238.3 298.5,238.3 298.8,238.3 299.0,238.3 299.2,238.4 299.5,238.4 299.8,238.4 300.0,238.5 300.2,238.5 300.5,238.5 300.8,238.5 301.0,238.6 301.2,238.6 301.5,238.6 301.8,238.7 302.0,238.7 302.2,238.7 302.5,238.7 302.8,238.8 303.0,238.8 303.2,238.8 303.5,238.8 303.8,238.8 304.0,238.9 304.2,238.9 304.5,238.9 304.8,238.9 305.0,239.0 305.2,239.0 305.5,239.0 305.8,239.0 306.0,239.1 306.2,239.1 306.5,239.1 306.8,239.1 307.0,239.2 307.2,239.2 307.5,239.2 307.8,239.2 308.0,239.3 308.2,239.3 308.5,239.3 308.8,239.3 309.0,239.3 309.2,239.4 309.5,239.4 309.8,239.4 310.0,239.4 310.2,239.4 310.5,239.4 310.8,239.4 311.0,239.5 311.2,239.5 311.5,239.5 311.8,239.5 312.0,239.5 312.2,239.5 312.5,239.5 312.8,239.5 313.0,239.6 313.2,239.6 313.5,239.6 313.8,239.6 314.0,239.6 314.2,239.6 314.5,239.6 314.8,239.6 315.0,239.6 315.2,239.7 315.5,239.7 315.8,239.7 316.0,239.7 316.2,239.7 316.5,239.7 316.8,239.7 317.0,239.7 317.2,239.7 317.5,239.7 317.8,239.7 318.0,239.8 318.2,239.8 318.5,239.8 318.8,239.8 319.0,239.8 319.2,239.8 319.5,239.8 319.8,239.8 320.0,239.8 320.2,239.8 320.5,239.8 320.8,239.9 321.0,239.9 321.2,239.9 321.5,239.9 321.8,239.9 322.0,239.9 322.2,239.9 322.5,239.9 322.8,239.9 323.0,239.9 323.2,239.9 323.5,240.0 323.8,240.0 324.0,240.0 324.2,240.0 324.5,240.0 324.8,240.0 325.0,240.0 325.2,240.0 325.5,240.0 325.8,240.0 326.0,240.1 326.2,240.1 326.5,240.1 326.8,240.1 327.0,240.1 327.2,240.1 327.5,240.1 327.8,240.1 328.0,240.1 328.2,240.1 328.5,240.1 328.8,240.2 329.0,240.2 329.2,240.2 329.5,240.2 329.8,240.2 330.0,240.2 330.2,240.2 330.5,240.2 330.8,240.2 331.0,240.2 331.2,240.2 331.5,240.2 331.8,240.3 332.0,240.3 332.2,240.3 332.5,240.3 332.8,240.3 333.0,240.3 333.2,240.3 333.5,240.3 333.8,240.3 334.0,240.3 334.2,240.3 334.5,240.4 334.8,240.4 335.0,240.4 335.2,240.4 335.5,240.4 335.8,240.4 336.0,240.4 336.2,240.4 336.5,240.4 336.8,240.4 337.0,240.4 337.2,240.4 337.5,240.5 337.8,240.5 338.0,240.5 338.2,240.5"/>
<polyline stroke="#CC9900" points="41.5,241.4 41.8,241.4 42.0,241.4 42.2,241.4 42.5,241.4 42.8,241.4 43.0,241.4 43.2,241.4 43.5,241.4 43.8,241.4 44.0,241.4 44.2,241.4 44.5,241.4 44.8,241.4 45.0,241.4 45.2,241.4 45.5,241.4 45.8,241.4 46.0,241.4 46.2,241.4 46.5,241.4 46.8,241.4 47.0,241.4 47.2,241.4 47.5,241.4 47.8,241.4 48.0,241.4 48.2,241.4 48.5,241.4 48.8,241.4 49.0,241.4 49.2,241.4 49.5,241.4 49.8,241.4 50.0,241.4 50.2,241.4 50.5,241.4 50.8,241.4 51.0,241.4 51.2,241.4 51.5,241.4 51.8,241.4 52.0,241.4 52.2,241.4 52.5,241.4 52.8,241.4 53.0,241.4 53.2,241.4 53.5,241.4 53.8,241.4 54.0,241.4 54.2,241.4 54.5,241.4 54.8,241.4 55.0,241.4 55.2,241.4 55.5,241.4 55.8,241.4 56.0,241.4 56.2,241.4 56.5,241.4 56.8,241.4 57.0,241.4 57.2,241.4 57.5,241.4 57.8,241.4 58.0,241.4 58.2,241.3 58.5,241.3 58.8,241.3 59.0,241.3 59.2,241.3 59.5,241.2 59.8,241.2 60.0,241.2 60.2,241.1 60.5,241.1 60.8,241.1 61.0,241.0 61.2,241.0 61.5,240.9 61.8,240.9 62.0,240.8 62.2,240.8 62.5,240.7 62.8,240.6 63.0,240.6 63.2,240.5 63.5,240.4 63.8,240.3 64.0,240.3 64.2,240.2 64.5,240.1 64.8,240.0 65.0,239.9 65.2,239.8 65.5,239.7 65.8,239.6 66.0,239.5 66.2,239.4 66.5,239.3 66.8,239.2 67.0,239.1 67.2,239.0 67.5,238.9 67.8,238.8 68.0,238.7 68.2,238.6 68.5,238.4 68.8,238.3 69.0,238.2 69.2,238.1 69.5,238.0 69.8,237.9 70.0,237.8 70.2,237.6 70.5,237.5 70.8,237.4 71.0,237.3 71.2,237.2 71.5,237.1 71.8,237.0 72.0,236.8 72.2,236.7 72.5,236.6 72.8,236.5 73.0,236.4 73.2,236.3 73.5,236.2 73.8,236.1 74.0,236.0 74.2,235.9 74.5,235.8 74.8,235.7 75.0,235.7 75.2,235.6 75.5,235.5 75.8,235.4 76.0,235.3 76.2,235.2 76.5,235.2 76.8,235.1 77.0,235.0 77.2,235.0 77.5,234.9 77.8,234.9 78.0,234.8 78.2,234.8 78.5,234.7 78.8,234.7 79.0,234.6 79.2,234.6 79.5,234.5 79.8,234.5 80.0,234.4 80.2,234.4 80.5,234.4 80.8,234.3 81.0,234.3 81.2,234.3 81.5,234.3 81.8,234.3 82.0,234.2 82.2,234.2 82.5,234.2 82.8,234.2 83.0,234.2 83.2,234.2 83.5,234.1 83.8,234.1 84.0,234.1 84.2,234.1 84.5,234.1 84.8,234.1 85.0,234.1 85.2,234.1 85.5,234.1 85.8,234.1 86.0,234.1 86.2,234.2 86.5,234.2 86.8,234.2 87.0,234.2 87.2,234.2 87.5,234.3 87.8,234.3 88.0,234.3 88.2,234.4 88.5,234.4 88.8,234.5 89.0,234.5 89.2,234.5 89.5,234.6 89.8,234.6 90.0,234.7 90.2,234.7 90.5,234.8 90.8,234.8 91.0,234.9 91.2,235.0 91.5,235.1 91.8,235.1 92.0,235.2 92.2,235.3 92.5,235.3 92.8,235.4 93.0,235.5 93.2,235.6 93.5,235.7 93.8,235.7 94.0,235.8 94.2,235.9 94.5,236.0 94.8,236.1 95.0,236.1 95.2,236.2 95.5,236.3 95.8,236.4 96.0,236.5 96.2,236.5 96.5,236.6 96.8,236.7 97.0,236.8 97.2,236.9 97.5,237.0 97.8,237.1 98.0,237.2 98.2,237.3 98.5,237.4 98.8,237.5 99.0,237.6 99.2,237.7 99.5,237.8 99.8,238.0 100.0,238.1 100.2,238.2 100.5,238.3 100.8,238.5 101.0,238.6 101.2,238.8 101.5,238.9 101.8,239.1 102.0,239.3 102.2,239.5 102.5,239.6 102.8,239.8 103.0,239.9 103.2,240.1 103.5,240.2 103.8,240.3 104.0,240.5 104.2,240.6 104.5,240.7 104.8,240.8 105.0,240.9 105.2,241.0 105.5,241.0 105.8,241.1 106.0,241.2 106.2,241.2 106.5,241.3 106.8,241.3 107.0,241.3 107.2,241.3 107.5,241.3 107.8,241.4 108.0,241.4 108.2,241.4 108.5,241.4 108.8,241.4 109.0,241.4 109.2,241.4 109.5,241.4 109.8,241.4 110.0,241.4 110.2,241.4 110.5,241.4 110.8,241.4 111.0,241.4 111.2,241.4 111.5,241.4 111.8,241.4 112.0,241.4 112.2,241.4 112.5,241.4 112.8,241.4 113.0,241.4 113.2,241.4 113.5,241.4 113.8,241.3 114.0,241.3 114.2,241.3 114.5,241.3 114.8,241.3 115.0,241.3 115.2,241.3 115.5,241.3 115.8,241.3 116.0,241.3 116.2,241.3 116.5,241.3 116.8,241.2 117.0,241.2 117.2,241.2 117.5,241.2 117.8,241.2 118.0,241.2 118.2,241.2 118.5,241.2 118.8,241.2 119.0,241.2 119.2,241.1 119.5,241.1 119.8,241.1 120.0,241.1 120.2,241.1 120.5,241.1 120.8,241.1 121.0,241.1 121.2,241.1 121.5,241.1 121.8,241.0 122.0,241.0 122.2,241.0 122.5,241.0 122.8,241.0 123.0,241.0 123.2,241.0 123.5,241.0 123.8,241.0 124.0,241.0 124.2,241.0 124.5,240.9 124.8,240.9 125.0,240.9 125.2,240.9 125.5,240.9 125.8,240.9 126.0,240.9 126.2,240.9 126.5,240.9 126.8,240.9 127.0,240.9 127.2,240.8 127.5,240.8 127.8,240.8 128.0,240.8 128.2,240.8 128.5,240.8 128.8,240.8 129.0,240.8 129.2,240.8 129.5,240.8 129.8,240.7 130.0,240.7 130.2,240.7 130.5,240.7 130.8,240.7 131.0,240.7 131.2,240.7 131.5,240.7 131.8,240.7 132.0,240.6 132.2,240.6 132.5,240.6 132.8,240.6 133.0,240.6 133.2,240.6 133.5,240.6 133.8,240.5 134.0,240.5 134.2,240.5 134.5,240.5 134.8,240.5 135.0,240.4 135.2,240.4 135.5,240.4 135.8,240.4 136.0,240.4 136.2,240.3 136.5,240.3 136.8,240.3 137.0,240.3 137.2,240.2 137.5,240.2 137.8,240.2 138.0,240.1 138.2,240.1 138.5,240.1 138.8,240.0 139.0,240.0 139.2,240.0 139.5,239.9 139.8,239.9 140.0,239.9 140.2,239.8 140.5,239.8 140.8,239.7 141.0,239.7 141.2,239.7 141.5,239.6 141.8,239.6 142.0,239.5 142.2,239.5 142.5,239.5 142.8,239.4 143.0,239.4 143.2,239.3 143.5,239.3 143.8,239.2 144.0,239.2 144.2,239.2 144.5,239.1 144.8,239.1 145.0,239.0 145.2,239.0 145.5,238.9 145.8,238.9 146.0,238.8 146.2,238.8 146.5,238.8 146.8,238.7 147.0,238.7 147.2,238.6 147.5,238.6 147.8,238.5 148.0,238.5 148.2,238.4 148.5,238.3 148.8,238.3 149.0,238.2 149.2,238.2 149.5,238.1 149.8,238.1 150.0,238.0 150.2,238.0 150.5,237.9 150.8,237.8 151.0,237.8 151.2,237.7 151.5,237.7 151.8,237.6 152.0,237.5 152.2,237.5 152.5,237.4 152.8,237.4 153.0,237.3 153.2,237.2 153.5,237.2 153.8,237.1 154.0,237.0 154.2,237.0 154.5,236.9 154.8,236.9 155.0,236.8 155.2,236.7 155.5,236.7 155.8,236.6 156.0,236.6 156.2,236.5 156.5,236.4 156.8,236.4 157.0,236.3 157.2,236.3 157.5,236.2 157.8,236.1 158.0,236.1 158.2,236.0 158.5,236.0 158.8,235.9 159.0,235.9 159.2,235.8 159.5,235.7 159.8,235.7 160.0,235.6 160.2,235.6 160.5,235.5 160.8,235.5 161.0,235.4 161.2,235.3 161.5,235.3 161.8,235.2 162.0,235.2 162.2,235.1 162.5,235.1 162.8,235.0 163.0,234.9 163.2,234.9 163.5,234.8 163.8,234.8 164.0,234.7 164.2,234.6 164.5,234.6 164.8,234.5 165.0,234.5 165.2,234.4 165.5,234.4 165.8,234.3 166.0,234.2 166.2,234.2 166.5,234.1 166.8,234.1 167.0,234.0 167.2,233.9 167.5,233.9 167.8,233.8 168.0,233.7 168.2,233.7 168.5,233.6 168.8,233.6 169.0,233.5 169.2,233.4 169.5,233.4 169.8,233.3 170.0,233.2 170.2,233.2 170.5,233.1 170.8,233.0 171.0,233.0 171.2,232.9 171.5,232.8 171.8,232.8 172.0,232.7 172.2,232.6 172.5,232.6 172.8,232.5 173.0,232.4 173.2,232.4 173.5,232.3 173.8,232.2 174.0,232.2 174.2,232.1 174.5,232.0 174.8,232.0 175.0,231.9 175.2,231.9 175.5,231.8 175.8,231.7 176.0,231.6 176.2,231.6 176.5,231.5 176.8,231.7 177.0,231.6 177.2,231.5 177.5,231.1 177.8,231.2 178.0,231.4 178.2,231.6 178.5,231.3 178.8,231.2 179.0,231.0 179.2,230.5 179.5,230.1 179.8,230.0 180.0,230.5 180.2,230.8 180.5,230.9 180.8,230.6 181.0,230.3 181.2,229.9 181.5,230.2 181.8,229.9 182.0,229.7 182.2,229.7 182.5,229.9 182.8,230.0 183.0,229.5 183.2,229.6 183.5,229.7 183.8,230.1 184.0,230.0 184.2,229.7 184.5,229.6 184.8,229.5 185.0,229.8 185.2,229.9 185.5,229.7 185.8,229.2 186.0,228.8 186.2,228.5 186.5,228.5 186.8,228.3 187.0,228.7 187.2,228.5 187.5,228.5 187.8,228.3 188.0,228.2 188.2,228.2 188.5,227.8 188.8,227.9 189.0,227.4 189.2,227.3 189.5,227.2 189.8,227.1 190.0,226.9 190.2,226.5 190.5,226.4 190.8,226.6 191.0,226.5 191.2,226.3 191.5,226.2 191.8,226.7 192.0,226.5 192.2,226.3 192.5,226.0 192.8,226.0 193.0,226.0 193.2,225.7 193.5,225.3 193.8,225.2 194.0,225.1 194.2,226.1 194.5,226.3 194.8,226.9 195.0,226.7 195.2,226.6 195.5,225.8 195.8,225.1 196.0,224.5 196.2,223.7 196.5,222.8 196.8,222.1 197.0,221.6 197.2,221.6 197.5,221.4 197.8,220.7 198.0,220.2 198.2,219.6 198.5,219.8 198.8,219.3 199.0,218.8 199.2,218.2 199.5,217.6 199.8,217.2 200.0,217.1 200.2,217.2 200.5,217.1 200.8,216.4 201.0,215.7 201.2,214.9 201.5,214.8 201.8,215.2 202.0,215.7 202.2,215.8 202.5,215.6 202.8,215.4 203.0,215.1 203.2,214.8 203.5,214.2 203.8,213.4 204.0,212.6 204.2,212.0 204.5,211.8 204.8,211.6 205.0,211.6 205.2,211.1 205.5,210.8 205.8,210.2 206.0,210.4 206.2,210.4 206.5,210.4 206.8,210.0 207.0,209.4 207.2,209.0 207.5,208.3 207.8,207.9 208.0,207.3 208.2,206.8 208.5,205.9 208.8,205.5 209.0,204.6 209.2,204.4 209.5,203.4 209.8,202.9 210.0,202.1 210.2,201.4 210.5,200.8 210.8,200.5 211.0,200.1 211.2,199.4 211.5,199.1 211.8,198.2 212.0,197.6 212.2,196.3 212.5,195.7 212.8,194.7 213.0,193.9 213.2,192.9 213.5,192.4 213.8,191.7 214.0,191.2 214.2,190.3 214.5,189.5 214.8,188.3 215.0,187.5 215.2,186.4 215.5,185.6 215.8,184.5 216.0,183.9 216.2,183.4 216.5,182.7 216.8,182.2 217.0,181.5 217.2,180.9 217.5,180.1 217.8,179.3 218.0,178.7 218.2,178.1 218.5,177.6 218.8,177.3 219.0,177.0 219.2,176.7 219.5,176.5 219.8,176.3 220.0,176.0 220.2,175.8 220.5,175.6 220.8,175.3 221.0,175.1 221.2,174.8 221.5,174.6 221.8,174.4 222.0,174.1 222.2,173.9 222.5,173.7 222.8,173.4 223.0,173.2 223.2,172.9 223.5,172.7 223.8,172.5 224.0,172.2 224.2,171.9 224.5,171.7 224.8,171.4 225.0,171.2 225.2,170.9 225.5,170.6 225.8,170.3 226.0,170.0 226.2,169.7 226.5,169.4 226.8,169.1 227.0,168.7 227.2,168.3 227.5,167.8 227.8,167.1 228.0,166.2 228.2,165.2 228.5,164.1 228.8,163.0 229.0,162.0 229.2,161.0 229.5,159.9 229.8,158.9 230.0,157.8 230.2,156.8 230.5,155.8 230.8,154.8 231.0,154.0 231.2,153.2 231.5,152.4 231.8,151.6 232.0,150.9 232.2,150.2 232.5,149.5 232.8,148.9 233.0,148.2 233.2,147.6 233.5,147.0 233.8,146.4 234.0,145.8 234.2,145.3 234.5,144.8 234.8,144.3 235.0,143.7 235.2,143.3 235.5,142.8 235.8,142.3 236.0,141.8 236.2,141.3 236.5,140.8 236.8,140.3 237.0,139.8 237.2,139.3 237.5,138.8 237.8,138.3 238.0,137.8 238.2,137.3 238.5,136.8 238.8,136.3 239.0,135.8 239.2,135.3 239.5,134.9 239.8,134.4 240.0,134.0 240.2,133.6 240.5,133.1 240.8,132.7 241.0,132.3 241.2,131.9 241.5,131.5 241.8,131.1 242.0,130.7 242.2,130.4 242.5,130.1 242.8,129.8 243.0,129.5 243.2,129.2 243.5,129.0 243.8,128.7 244.0,128.5 244.2,128.3 244.5,128.0 244.8,127.9 245.0,127.7 245.2,127.6 245.5,127.5 245.8,127.5 246.0,127.6 246.2,127.7 246.5,127.9 246.8,128.1 247.0,128.4 247.2,128.7 247.5,129.0 247.8,129.3 248.0,129.8 248.2,130.3 248.5,130.8 248.8,131.5 249.0,132.1 249.2,132.8 249.5,133.5 249.8,134.2 250.0,135.0 250.2,135.9 250.5,136.8 250.8,137.8 251.0,138.8 251.2,139.9 251.5,141.1 251.8,142.4 252.0,143.9 252.2,145.4 252.5,147.1 252.8,148.8 253.0,150.6 253.2,152.4 253.5,154.2 253.8,156.2 254.0,158.2 254.2,160.3 254.5,162.4 254.8,164.5 255.0,166.5 255.2,168.5 255.5,170.6 255.8,172.6 256.0,174.5 256.2,176.4 256.5,178.1 256.8,179.8 257.0,181.4 257.2,182.9 257.5,184.5 257.8,186.0 258.0,187.5 258.2,188.9 258.5,190.4 258.8,191.7 259.0,193.1 259.2,194.3 259.5,195.5 259.8,196.7 260.0,197.9 260.2,199.2 260.5,200.6 260.8,202.0 261.0,203.6 261.2,205.2 261.5,206.8 261.8,208.3 262.0,209.8 262.2,211.1 262.5,212.4 262.8,213.7 263.0,215.0 263.2,216.3 263.5,217.5 263.8,218.7 264.0,219.8 264.2,220.8 264.5,221.7 264.8,222.5 265.0,223.2 265.2,223.9 265.5,224.5 265.8,225.2 266.0,225.8 266.2,226.3 266.5,226.9 266.8,227.4 267.0,227.9 267.2,228.4 267.5,228.8 267.8,229.2 268.0,229.6 268.2,230.0 268.5,230.4 268.8,230.8 269.0,231.1 269.2,231.4 269.5,231.7 269.8,232.0 270.0,232.2 270.2,232.4 270.5,232.6 270.8,232.8 271.0,233.0 271.2,233.1 271.5,233.3 271.8,233.5 272.0,233.6 272.2,233.8 272.5,233.9 272.8,234.0 273.0,234.2 273.2,234.3 273.5,234.4 273.8,234.5 274.0,234.6 274.2,234.8 274.5,234.9 274.8,235.0 275.0,235.1 275.2,235.2 275.5,235.3 275.8,235.4 276.0,235.5 276.2,235.6 276.5,235.7 276.8,235.8 277.0,235.9 277.2,236.0 277.5,236.1 277.8,236.2 278.0,236.3 278.2,236.4 278.5,236.5 278.8,236.6 279.0,236.7 279.2,236.8 279.5,236.8 279.8,236.9 280.0,237.0 280.2,237.1 280.5,237.1 280.8,237.2 281.0,237.3 281.2,237.4 281.5,237.4 281.8,237.5 282.0,237.6 282.2,237.6 282.5,237.7 282.8,237.7 283.0,237.8 283.2,237.9 283.5,237.9 283.8,238.0 284.0,238.0 284.2,238.1 284.5,238.1 284.8,238.2 285.0,238.2 285.2,238.3 285.5,238.3 285.8,238.4 286.0,238.4 286.2,238.5 286.5,238.5 286.8,238.5 287.0,238.6 287.2,238.6 287.5,238.7 287.8,238.7 288.0,238.7 288.2,238.8 288.5,238.8 288.8,238.9 289.0,238.9 289.2,238.9 289.5,239.0 289.8,239.0 290.0,239.1 290.2,239.1 290.5,239.1 290.8,239.2 291.0,239.2 291.2,239.2 291.5,239.2 291.8,239.3 292.0,239.3 292.2,239.3 292.5,239.4 292.8,239.4 293.0,239.4 293.2,239.4 293.5,239.5 293.8,239.5 294.0,239.5 294.2,239.5 294.5,239.5 294.8,239.6 295.0,239.6 295.2,239.6 295.5,239.6 295.8,239.7 296.0,239.7 296.2,239.7 296.5,239.7 296.8,239.7 297.0,239.8 297.2,239.8 297.5,239.8 297.8,239.8 298.0,239.8 298.2,239.8 298.5,239.9 298.8,239.9 299.0,239.9 299.2,239.9 299.5,239.9 299.8,240.0 300.0,240.0 300.2,240.0 300.5,240.0 300.8,240.0 301.0,240.0 301.2,240.0 301.5,240.1 301.8,240.1 302.0,240.1 302.2,240.1 302.5,240.1 302.8,240.1 303.0,240.1 303.2,240.2 303.5,240.2 303.8,240.2 304.0,240.2 304.2,240.2 304.5,240.2 304.8,240.2 305.0,240.2 305.2,240.2 305.5,240.3 305.8,240.3 306.0,240.3 306.2,240.3 306.5,240.3 306.8,240.3 307.0,240.3 307.2,240.3 307.5,240.3 307.8,240.3 308.0,240.4 308.2,240.4 308.5,240.4 308.8,240.4 309.0,240.4 309.2,240.4 309.5,240.4 309.8,240.4 310.0,240.4 310.2,240.4 310.5,240.4 310.8,240.5 311.0,240.5 311.2,240.5 311.5,240.5 311.8,240.5 312.0,240.5 312.2,240.5 312.5,240.5 312.8,240.5 313.0,240.5 313.2,240.5 313.5,240.5 313.8,240.6 314.0,240.6 314.2,240.6 314.5,240.6 314.8,240.6 315.0,240.6 315.2,240.6 315.5,240.6 315.8,240.6 316.0,240.6 316.2,240.6 316.5,240.6 316.8,240.6 317.0,240.6 317.2,240.6 317.5,240.7 317.8,240.7 318.0,240.7 318.2,240.7 318.5,240.7 318.8,240.7 319.0,240.7 319.2,240.7 319.5,240.7 319.8,240.7 320.0,240.7 320.2,240.7 320.5,240.7 320.8,240.7 321.0,240.7 321.2,240.7 321.5,240.7 321.8,240.7 322.0,240.7 322.2,240.7 322.5,240.7 322.8,240.7 323.0,240.7 323.2,240.8 323.5,240.8 323.8,240.8 324.0,240.8 324.2,240.8 324.5,240.8 324.8,240.8 325.0,240.8 325.2,240.8 325.5,240.8 325.8,240.8 326.0,240.8 326.2,240.8 326.5,240.8 326.8,240.8 327.0,240.8 327.2,240.8 327.5,240.8 327.8,240.8 328.0,240.8 328.2,240.8 328.5,240.8 328.8,240.8 329.0,240.8 329.2,240.8 329.5,240.8 329.8,240.8 330.0,240.8 330.2,240.8 330.5,240.8 330.8,240.9 331.0,240.9 331.2,240.9 331.5,240.9 331.8,240.9 332.0,240.9 332.2,240.9 332.5,240.9 332.8,240.9 333.0,240.9 333.2,240.9 333.5,240.9 333.8,240.9 334.0,240.9 334.2,240.9 334.5,240.9 334.8,240.9 335.0,240.9 335.2,240.9 335.5,240.9 335.8,240.9 336.0,240.9 336.2,240.9 336.5,240.9 336.8,240.9 337.0,240.9 337.2,240.9 337.5,240.9 337.8,240.9 338.0,240.9 338.2,240.9"/>
<polyline stroke="#00CBCC" points="41.5,241.4 41.8,241.4 42.0,241.4 42.2,241.4 42.5,241.4 42.8,241.4 43.0,241.4 43.2,241.4 43.5,241.4 43.8,241.4 44.0,241.4 44.2,241.4 44.5,241.4 44.8,241.4 45.0,241.4 45.2,241.4 45.5,241.4 45.8,241.4 46.0,241.4 46.2,241.4 46.5,241.4 46.8,241.4 47.0,241.4 47.2,241.4 47.5,241.4 47.8,241.4 48.0,241.4 48.2,241.4 48.5,241.4 48.8,241.4 49.0,241.4 49.2,241.4 49.5,241.4 49.8,241.4 50.0,241.4 50.2,241.4 50.5,241.4 50.8,241.4 51.0,241.4 51.2,241.4 51.5,241.4 51.8,241.4 52.0,241.4 52.2,241.4 52.5,241.4 52.8,241.4 53.0,241.4 53.2,241.4 53.5,241.4 53.8,241.4 54.0,241.4 54.2,241.4 54.5,241.4 54.8,241.4 55.0,241.4 55.2,241.4 55.5,241.4 55.8,241.4 56.0,241.4 56.2,241.4 56.5,241.4 56.8,241.4 57.0,241.4 57.2,241.4 57.5,241.4 57.8,241.4 58.0,241.4 58.2,241.4 58.5,241.4 58.8,241.4 59.0,241.4 59.2,241.4 59.5,241.3 59.8,241.3 60.0,241.3 60.2,241.3 60.5,241.3 60.8,241.3 61.0,241.3 61.2,241.3 61.5,241.2 61.8,241.2 62.0,241.2 62.2,241.2 62.5,241.2 62.8,241.1 63.0,241.1 63.2,241.1 63.5,241.1 63.8,241.1 64.0,241.0 64.2,241.0 64.5,241.0 64.8,240.9 65.0,240.9 65.2,240.9 65.5,240.8 65.8,240.8 66.0,240.8 66.2,240.8 66.5,240.7 66.8,240.7 67.0,240.7 67.2,240.6 67.5,240.6 67.8,240.5 68.0,240.5 68.2,240.5 68.5,240.4 68.8,240.4 69.0,240.3 69.2,240.3 69.5,240.3 69.8,240.2 70.0,240.2 70.2,240.2 70.5,240.1 70.8,240.1 71.0,240.1 71.2,240.0 71.5,240.0 71.8,239.9 72.0,239.9 72.2,239.9 72.5,239.8 72.8,239.8 73.0,239.8 73.2,239.7 73.5,239.7 73.8,239.7 74.0,239.6 74.2,239.6 74.5,239.6 74.8,239.5 75.0,239.5 75.2,239.5 75.5,239.5 75.8,239.4 76.0,239.4 76.2,239.4 76.5,239.4 76.8,239.3 77.0,239.3 77.2,239.3 77.5,239.3 77.8,239.3 78.0,239.2 78.2,239.2 78.5,239.2 78.8,239.2 79.0,239.2 79.2,239.2 79.5,239.1 79.8,239.1 80.0,239.1 80.2,239.1 80.5,239.1 80.8,239.1 81.0,239.1 81.2,239.1 81.5,239.1 81.8,239.1 82.0,239.0 82.2,239.0 82.5,239.0 82.8,239.0 83.0,239.0 83.2,239.0 83.5,239.0 83.8,239.0 84.0,239.0 84.2,239.0 84.5,239.0 84.8,239.0 85.0,239.0 85.2,239.0 85.5,239.0 85.8,239.0 86.0,239.0 86.2,239.0 86.5,239.0 86.8,239.0 87.0,239.0 87.2,239.0 87.5,239.1 87.8,239.1 88.0,239.1 88.2,239.1 88.5,239.1 88.8,239.1 89.0,239.1 89.2,239.1 89.5,239.2 89.8,239.2 90.0,239.2 90.2,239.2 90.5,239.2 90.8,239.2 91.0,239.3 91.2,239.3 91.5,239.3 91.8,239.3 92.0,239.4 92.2,239.4 92.5,239.4 92.8,239.4 93.0,239.5 93.2,239.5 93.5,239.5 93.8,239.5 94.0,239.6 94.2,239.6 94.5,239.6 94.8,239.6 95.0,239.7 95.2,239.7 95.5,239.7 95.8,239.8 96.0,239.8 96.2,239.8 96.5,239.8 96.8,239.9 97.0,239.9 97.2,239.9 97.5,239.9 97.8,240.0 98.0,240.0 98.2,240.0 98.5,240.1 98.8,240.1 99.0,240.2 99.2,240.2 99.5,240.2 99.8,240.3 100.0,240.3 100.2,240.4 100.5,240.4 100.8,240.4 101.0,240.5 101.2,240.5 101.5,240.6 101.8,240.6 102.0,240.7 102.2,240.8 102.5,240.8 102.8,240.9 103.0,240.9 103.2,241.0 103.5,241.0 103.8,241.1 104.0,241.1 104.2,241.1 104.5,241.2 104.8,241.2 105.0,241.2 105.2,241.3 105.5,241.3 105.8,241.3 106.0,241.3 106.2,241.3 106.5,241.4 106.8,241.4 107.0,241.4 107.2,241.4 107.5,241.4 107.8,241.4 108.0,241.4 108.2,241.4 108.5,241.4 108.8,241.4 109.0,241.4 109.2,241.4 109.5,241.4 109.8,241.4 110.0,241.4 110.2,241.4 110.5,241.4 110.8,241.4 111.0,241.4 111.2,241.4 111.5,241.4 111.8,241.4 112.0,241.4 112.2,241.4 112.5,241.4 112.8,241.4 113.0,241.4 113.2,241.4 113.5,241.4 113.8,241.4 114.0,241.4 114.2,241.4 114.5,241.4 114.8,241.4 115.0,241.4 115.2,241.4 115.5,241.4 115.8,241.4 116.0,241.4 116.2,241.4 116.5,241.4 116.8,241.4 117.0,241.4 117.2,241.4 117.5,241.4 117.8,241.4 118.0,241.4 118.2,241.4 118.5,241.4 118.8,241.4 119.0,241.4 119.2,241.4 119.5,241.4 119.8,241.3 120.0,241.3 120.2,241.3 120.5,241.3 120.8,241.3 121.0,241.3 121.2,241.3 121.5,241.3 121.8,241.3 122.0,241.3 122.2,241.3 122.5,241.3 122.8,241.3 123.0,241.3 123.2,241.3 123.5,241.3 123.8,241.3 124.0,241.3 124.2,241.3 124.5,241.3 124.8,241.3 125.0,241.3 125.2,241.3 125.5,241.3 125.8,241.3 126.0,241.3 126.2,241.3 126.5,241.3 126.8,241.3 127.0,241.3 127.2,241.3 127.5,241.3 127.8,241.3 128.0,241.3 128.2,241.2 128.5,241.2 128.8,241.2 129.0,241.2 129.2,241.2 129.5,241.2 129.8,241.2 130.0,241.2 130.2,241.2 130.5,241.2 130.8,241.2 131.0,241.2 131.2,241.2 131.5,241.2 131.8,241.2 132.0,241.2 132.2,241.2 132.5,241.2 132.8,241.2 133.0,241.2 133.2,241.2 133.5,241.2 133.8,241.2 134.0,241.2 134.2,241.2 134.5,241.2 134.8,241.2 135.0,241.2 135.2,241.2 135.5,241.2 135.8,241.2 136.0,241.1 136.2,241.1 136.5,241.1 136.8,241.1 137.0,241.1 137.2,241.1 137.5,241.1 137.8,241.1 138.0,241.1 138.2,241.1 138.5,241.1 138.8,241.1 139.0,241.1 139.2,241.1 139.5,241.1 139.8,241.1 140.0,241.1 140.2,241.1 140.5,241.1 140.8,241.1 141.0,241.1 141.2,241.1 141.5,241.1 141.8,241.1 142.0,241.1 142.2,241.1 142.5,241.1 142.8,241.1 143.0,241.1 143.2,241.1 143.5,241.1 143.8,241.1 144.0,241.1 144.2,241.1 144.5,241.1 144.8,241.1 145.0,241.1 145.2,241.1 145.5,241.0 145.8,241.0 146.0,241.0 146.2,241.0 146.5,241.0 146.8,241.0 147.0,241.0 147.2,241.0 147.5,241.0 147.8,241.0 148.0,241.0 148.2,241.0 148.5,241.0 148.8,241.0 149.0,241.0 149.2,241.0 149.5,241.0 149.8,241.0 150.0,241.0 150.2,241.0 150.5,241.0 150.8,241.0 151.0,241.0 151.2,241.0 151.5,241.0 151.8,241.0 152.0,241.0 152.2,241.0 152.5,241.0 152.8,241.0 153.0,241.0 153.2,241.0 153.5,241.0 153.8,241.0 154.0,241.0 154.2,241.0 154.5,240.9 154.8,240.9 155.0,240.9 155.2,240.9 155.5,240.9 155.8,240.9 156.0,240.9 156.2,240.9 156.5,240.9 156.8,240.9 157.0,240.9 157.2,240.9 157.5,240.9 157.8,240.9 158.0,240.9 158.2,240.9 158.5,240.9 158.8,240.9 159.0,240.8 159.2,240.8 159.5,240.8 159.8,240.8 160.0,240.8 160.2,240.8 160.5,240.8 160.8,240.8 161.0,240.8 161.2,240.7 161.5,240.7 161.8,240.7 162.0,240.7 162.2,240.7 162.5,240.7 162.8,240.7 163.0,240.6 163.2,240.6 163.5,240.6 163.8,240.6 164.0,240.6 164.2,240.6 164.5,240.5 164.8,240.5 165.0,240.5 165.2,240.5 165.5,240.5 165.8,240.4 166.0,240.4 166.2,240.4 166.5,240.4 166.8,240.4 167.0,240.3 167.2,240.3 167.5,240.3 167.8,240.3 168.0,240.3 168.2,240.2 168.5,240.2 168.8,240.2 169.0,240.2 169.2,240.1 169.5,240.1 169.8,240.1 170.0,240.0 170.2,240.0 170.5,240.0 170.8,239.9 171.0,239.9 171.2,239.8 171.5,239.8 171.8,239.8 172.0,239.7 172.2,239.7 172.5,239.6 172.8,239.6 173.0,239.5 173.2,239.5 173.5,239.4 173.8,239.4 174.0,239.3 174.2,239.3 174.5,239.3 174.8,239.2 175.0,239.2 175.2,239.1 175.5,239.1 175.8,239.0 176.0,239.0 176.2,239.0 176.5,238.9 176.8,238.9 177.0,238.8 177.2,238.8 177.5,238.8 177.8,238.7 178.0,238.8 178.2,238.7 178.5,238.6 178.8,238.6 179.0,238.5 179.2,238.4 179.5,238.3 179.8,238.3 180.0,238.5 180.2,238.3 180.5,238.4 180.8,238.4 181.0,238.4 181.2,238.4 181.5,238.1 181.8,238.0 182.0,237.7 182.2,237.8 182.5,237.8 182.8,237.8 183.0,238.1 183.2,238.1 183.5,238.2 183.8,237.9 184.0,238.1 184.2,237.9 184.5,237.8 184.8,237.6 185.0,237.8 185.2,237.8 185.5,237.7 185.8,237.7 186.0,237.5 186.2,237.4 186.5,237.1 186.8,236.9 187.0,236.8 187.2,236.7 187.5,236.8 187.8,237.0 188.0,237.1 188.2,237.1 188.5,237.0 188.8,237.1 189.0,237.2 189.2,237.1 189.5,237.1 189.8,237.1 190.0,237.0 190.2,236.9 190.5,236.5 190.8,236.6 191.0,236.6 191.2,236.7 191.5,236.5 191.8,236.5 192.0,236.6 192.2,236.2 192.5,236.0 192.8,235.7 193.0,236.1 193.2,236.0 193.5,235.8 193.8,235.7 194.0,235.6 194.2,235.6 194.5,235.6 194.8,235.8 195.0,235.5 195.2,235.1 195.5,234.9 195.8,234.9 196.0,235.2 196.2,234.9 196.5,234.9 196.8,234.5 197.0,234.6 197.2,234.5 197.5,234.6 197.8,234.4 198.0,234.3 198.2,234.2 198.5,234.0 198.8,234.0 199.0,233.6 199.2,233.6 199.5,233.5 199.8,233.7 200.0,233.6 200.2,233.5 200.5,233.5 200.8,233.3 201.0,233.2 201.2,233.2 201.5,233.1 201.8,233.0 202.0,232.7 202.2,232.6 202.5,232.6 202.8,232.5 203.0,232.4 203.2,232.2 203.5,232.3 203.8,232.6 204.0,232.9 204.2,232.6 204.5,232.2 204.8,231.9 205.0,232.0 205.2,232.0 205.5,232.1 205.8,232.0 206.0,232.0 206.2,231.7 206.5,231.4 206.8,231.4 207.0,231.4 207.2,231.3 207.5,230.9 207.8,230.9 208.0,230.8 208.2,230.9 208.5,230.5 208.8,230.3 209.0,230.0 209.2,230.1 209.5,230.2 209.8,230.1 210.0,229.8 210.2,229.5 210.5,229.6 210.8,229.6 211.0,229.4 211.2,229.3 211.5,229.2 211.8,229.1 212.0,228.9 212.2,228.7 212.5,228.5 212.8,228.6 213.0,228.5 213.2,228.4 213.5,228.2 213.8,227.9 214.0,227.8 214.2,227.5 214.5,227.3 214.8,226.9 215.0,226.9 215.2,226.8 215.5,226.8 215.8,226.5 216.0,226.3 216.2,226.1 216.5,225.8 216.8,225.6 217.0,225.4 217.2,225.2 217.5,224.9 217.8,224.7 218.0,224.5 218.2,224.3 218.5,224.1 218.8,223.9 219.0,223.6 219.2,223.4 219.5,223.2 219.8,223.0 220.0,222.8 220.2,222.5 220.5,222.3 220.8,222.1 221.0,221.8 221.2,221.6 221.5,221.4 221.8,221.1 222.0,220.9 222.2,220.7 222.5,220.4 222.8,220.2 223.0,219.9 223.2,219.6 223.5,219.4 223.8,219.1 224.0,218.8 224.2,218.6 224.5,218.3 224.8,218.0 225.0,217.7 225.2,217.4 225.5,217.2 225.8,216.9 226.0,216.6 226.2,216.3 226.5,216.0 226.8,215.7 227.0,215.4 227.2,215.1 227.5,214.8 227.8,214.5 228.0,214.2 228.2,213.8 228.5,213.5 228.8,213.2 229.0,212.9 229.2,212.6 229.5,212.3 229.8,211.9 230.0,211.6 230.2,211.3 230.5,210.9 230.8,210.6 231.0,210.2 231.2,209.8 231.5,209.5 231.8,209.1 232.0,208.8 232.2,208.4 232.5,208.0 232.8,207.7 233.0,207.3 233.2,207.0 233.5,206.6 233.8,206.3 234.0,206.0 234.2,205.7 234.5,205.4 234.8,205.1 235.0,204.8 235.2,204.5 235.5,204.2 235.8,203.9 236.0,203.6 236.2,203.3 236.5,203.0 236.8,202.8 237.0,202.5 237.2,202.2 237.5,202.0 237.8,201.7 238.0,201.4 238.2,201.2 238.5,201.0 238.8,200.7 239.0,200.5 239.2,200.3 239.5,200.1 239.8,199.9 240.0,199.6 240.2,199.4 240.5,199.2 240.8,199.0 241.0,198.8 241.2,198.6 241.5,198.4 241.8,198.3 242.0,198.1 242.2,197.9 242.5,197.8 242.8,197.6 243.0,197.5 243.2,197.4 243.5,197.2 243.8,197.1 244.0,197.0 244.2,196.8 244.5,196.7 244.8,196.6 245.0,196.5 245.2,196.4 245.5,196.3 245.8,196.2 246.0,196.1 246.2,196.1 246.5,196.0 246.8,196.0 247.0,196.0 247.2,196.0 247.5,196.1 247.8,196.2 248.0,196.3 248.2,196.5 248.5,196.7 248.8,196.9 249.0,197.1 249.2,197.3 249.5,197.5 249.8,197.8 250.0,198.1 250.2,198.5 250.5,198.9 250.8,199.4 251.0,199.9 251.2,200.3 251.5,200.8 251.8,201.2 252.0,201.6 252.2,202.1 252.5,202.6 252.8,203.1 253.0,203.7 253.2,204.4 253.5,205.1 253.8,205.8 254.0,206.6 254.2,207.4 254.5,208.3 254.8,209.1 255.0,209.9 255.2,210.7 255.5,211.5 255.8,212.3 256.0,213.0 256.2,213.7 256.5,214.4 256.8,215.1 257.0,215.7 257.2,216.4 257.5,217.1 257.8,217.7 258.0,218.4 258.2,219.0 258.5,219.6 258.8,220.2 259.0,220.9 259.2,221.5 259.5,222.1 259.8,222.7 260.0,223.3 260.2,223.9 260.5,224.5 260.8,225.1 261.0,225.7 261.2,226.3 261.5,226.9 261.8,227.5 262.0,228.1 262.2,228.6 262.5,229.2 262.8,229.7 263.0,230.2 263.2,230.6 263.5,231.1 263.8,231.5 264.0,231.8 264.2,232.2 264.5,232.5 264.8,232.9 265.0,233.2 265.2,233.5 265.5,233.7 265.8,234.0 266.0,234.3 266.2,234.5 266.5,234.8 266.8,235.0 267.0,235.2 267.2,235.4 267.5,235.6 267.8,235.8 268.0,236.0 268.2,236.2 268.5,236.4 268.8,236.6 269.0,236.7 269.2,236.9 269.5,237.0 269.8,237.2 270.0,237.3 270.2,237.4 270.5,237.5 270.8,237.6 271.0,237.7 271.2,237.8 271.5,237.9 271.8,238.0 272.0,238.1 272.2,238.2 272.5,238.3 272.8,238.4 273.0,238.5 273.2,238.6 273.5,238.6 273.8,238.7 274.0,238.8 274.2,238.9 274.5,238.9 274.8,239.0 275.0,239.1 275.2,239.1 275.5,239.2 275.8,239.2 276.0,239.3 276.2,239.3 276.5,239.4 276.8,239.4 277.0,239.4 277.2,239.5 277.5,239.5 277.8,239.6 278.0,239.6 278.2,239.6 278.5,239.7 278.8,239.7 279.0,239.7 279.2,239.8 279.5,239.8 279.8,239.8 280.0,239.9 280.2,239.9 280.5,239.9 280.8,239.9 281.0,240.0 281.2,240.0 281.5,240.0 281.8,240.0 282.0,240.1 282.2,240.1 282.5,240.1 282.8,240.1 283.0,240.1 283.2,240.2 283.5,240.2 283.8,240.2 284.0,240.2 284.2,240.2 284.5,240.3 284.8,240.3 285.0,240.3 285.2,240.3 285.5,240.3 285.8,240.3 286.0,240.4 286.2,240.4 286.5,240.4 286.8,240.4 287.0,240.4 287.2,240.4 287.5,240.5 287.8,240.5 288.0,240.5 288.2,240.5 288.5,240.5 288.8,240.5 289.0,240.5 289.2,240.6 289.5,240.6 289.8,240.6 290.0,240.6 290.2,240.6 290.5,240.6 290.8,240.6 291.0,240.6 291.2,240.6 291.5,240.7 291.8,240.7 292.0,240.7 292.2,240.7 292.5,240.7 292.8,240.7 293.0,240.7 293.2,240.7 293.5,240.7 293.8,240.7 294.0,240.7 294.2,240.7 294.5,240.7 294.8,240.8 295.0,240.8 295.2,240.8 295.5,240.8 295.8,240.8 296.0,240.8 296.2,240.8 296.5,240.8 296.8,240.8 297.0,240.8 297.2,240.8 297.5,240.8 297.8,240.8 298.0,240.8 298.2,240.8 298.5,240.8 298.8,240.9 299.0,240.9 299.2,240.9 299.5,240.9 299.8,240.9 300.0,240.9 300.2,240.9 300.5,240.9 300.8,240.9 301.0,240.9 301.2,240.9 301.5,240.9 301.8,240.9 302.0,240.9 302.2,240.9 302.5,240.9 302.8,241.0 303.0,241.0 303.2,241.0 303.5,241.0 303.8,241.0 304.0,241.0 304.2,241.0 304.5,241.0 304.8,241.0 305.0,241.0 305.2,241.0 305.5,241.0 305.8,241.0 306.0,241.0 306.2,241.0 306.5,241.0 306.8,241.0 307.0,241.0 307.2,241.0 307.5,241.1 307.8,241.1 308.0,241.1 308.2,241.1 308.5,241.1 308.8,241.1 309.0,241.1 309.2,241.1 309.5,241.1 309.8,241.1 310.0,241.1 310.2,241.1 310.5,241.1 310.8,241.1 311.0,241.1 311.2,241.1 311.5,241.1 311.8,241.1 312.0,241.1 312.2,241.1 312.5,241.2 312.8,241.2 313.0,241.2 313.2,241.2 313.5,241.2 313.8,241.2 314.0,241.2 314.2,241.2 314.5,241.2 314.8,241.2 315.0,241.2 315.2,241.2 315.5,241.2 315.8,241.2 316.0,241.2 316.2,241.2 316.5,241.2 316.8,241.2 317.0,241.2 317.2,241.2 317.5,241.2 317.8,241.2 318.0,241.2 318.2,241.2 318.5,241.2 318.8,241.3 319.0,241.3 319.2,241.3 319.5,241.3 319.8,241.3 320.0,241.3 320.2,241.3 320.5,241.3 320.8,241.3 321.0,241.3 321.2,241.3 321.5,241.3 321.8,241.3 322.0,241.3 322.2,241.3 322.5,241.3 322.8,241.3 323.0,241.3 323.2,241.3 323.5,241.3 323.8,241.3 324.0,241.3 324.2,241.3 324.5,241.3 324.8,241.3 325.0,241.3 325.2,241.3 325.5,241.3 325.8,241.3 326.0,241.3 326.2,241.3 326.5,241.3 326.8,241.3 327.0,241.3 327.2,241.3 327.5,241.4 327.8,241.4 328.0,241.4 328.2,241.4 328.5,241.4 328.8,241.4 329.0,241.4 329.2,241.4 329.5,241.4 329.8,241.4 330.0,241.4 330.2,241.4 330.5,241.4 330.8,241.4 331.0,241.4 331.2,241.4 331.5,241.4 331.8,241.4 332.0,241.4 332.2,241.4 332.5,241.4 332.8,241.4 333.0,241.4 333.2,241.4 333.5,241.4 333.8,241.4 334.0,241.4 334.2,241.4 334.5,241.4 334.8,241.4 335.0,241.4 335.2,241.4 335.5,241.4 335.8,241.4 336.0,241.4 336.2,241.4 336.5,241.4 336.8,241.4 337.0,241.4 337.2,241.4 337.5,241.4 337.8,241.4 338.0,241.4 338.2,241.4"/>
</g>
<text x="68.6" y="255" font-size="10.2" text-anchor="middle">1400</text>
<text x="122.7" y="255" font-size="10.2" text-anchor="middle">1600</text>
<text x="176.8" y="255" font-size="10.2" text-anchor="middle">1800</text>
<text x="230.9" y="255" font-size="10.2" text-anchor="middle">2000</text>
<text x="285.0" y="255" font-size="10.2" text-anchor="middle">2200</text>
<text x="339.1" y="255" font-size="10.2" text-anchor="middle">2400</text>
<text x="36.2" y="245.4" font-size="10.2" text-anchor="end">0.0</text>
<text x="36.2" y="206.0" font-size="10.2" text-anchor="end">0.5</text>
<text x="36.2" y="166.6" font-size="10.2" text-anchor="end">1.0</text>
<text x="36.2" y="127.2" font-size="10.2" text-anchor="end">1.5</text>
<text x="36.2" y="87.8" font-size="10.2" text-anchor="end">2.0</text>
<text x="36.2" y="48.4" font-size="10.2" text-anchor="end">2.5</text>
<text x="36.2" y="9.0" font-size="10.2" text-anchor="end">3.0</text>
<text x="190.4" y="271.9" font-size="10.4" text-anchor="middle">Wavelength (nm)</text>
<text transform="translate(9.1,118.2) rotate(-90)" font-size="10.2" text-anchor="middle">Intensity (a.u.)</text>
<line x1="83.7" y1="26.95" x2="107.8" y2="26.95" stroke="#515151" stroke-width="1.50"/>
<text x="109.7" y="30.2" font-size="10.3">TBT0.7</text>
<line x1="83.7" y1="39.45" x2="107.8" y2="39.45" stroke="#F14040" stroke-width="1.50"/>
<text x="109.7" y="42.8" font-size="10.3">TBTH0.05</text>
<line x1="83.7" y1="51.95" x2="107.8" y2="51.95" stroke="#1A6FDF" stroke-width="1.50"/>
<text x="109.7" y="55.2" font-size="10.3">TBTH0.2</text>
<line x1="83.7" y1="64.45" x2="107.8" y2="64.45" stroke="#37AD6B" stroke-width="1.50"/>
<text x="109.7" y="67.8" font-size="10.3">TBTH0.5</text>
<line x1="83.7" y1="76.95" x2="107.8" y2="76.95" stroke="#B177DE" stroke-width="1.50"/>
<text x="109.7" y="80.2" font-size="10.3">TBTH0.7</text>
<line x1="83.7" y1="89.45" x2="107.8" y2="89.45" stroke="#CC9900" stroke-width="1.50"/>
<text x="109.7" y="92.8" font-size="10.3">TBTH1.0</text>
<line x1="83.7" y1="101.95" x2="107.8" y2="101.95" stroke="#00CBCC" stroke-width="1.50"/>
<text x="109.7" y="105.2" font-size="10.3">TBTH1.2</text>
</svg></body></html>
